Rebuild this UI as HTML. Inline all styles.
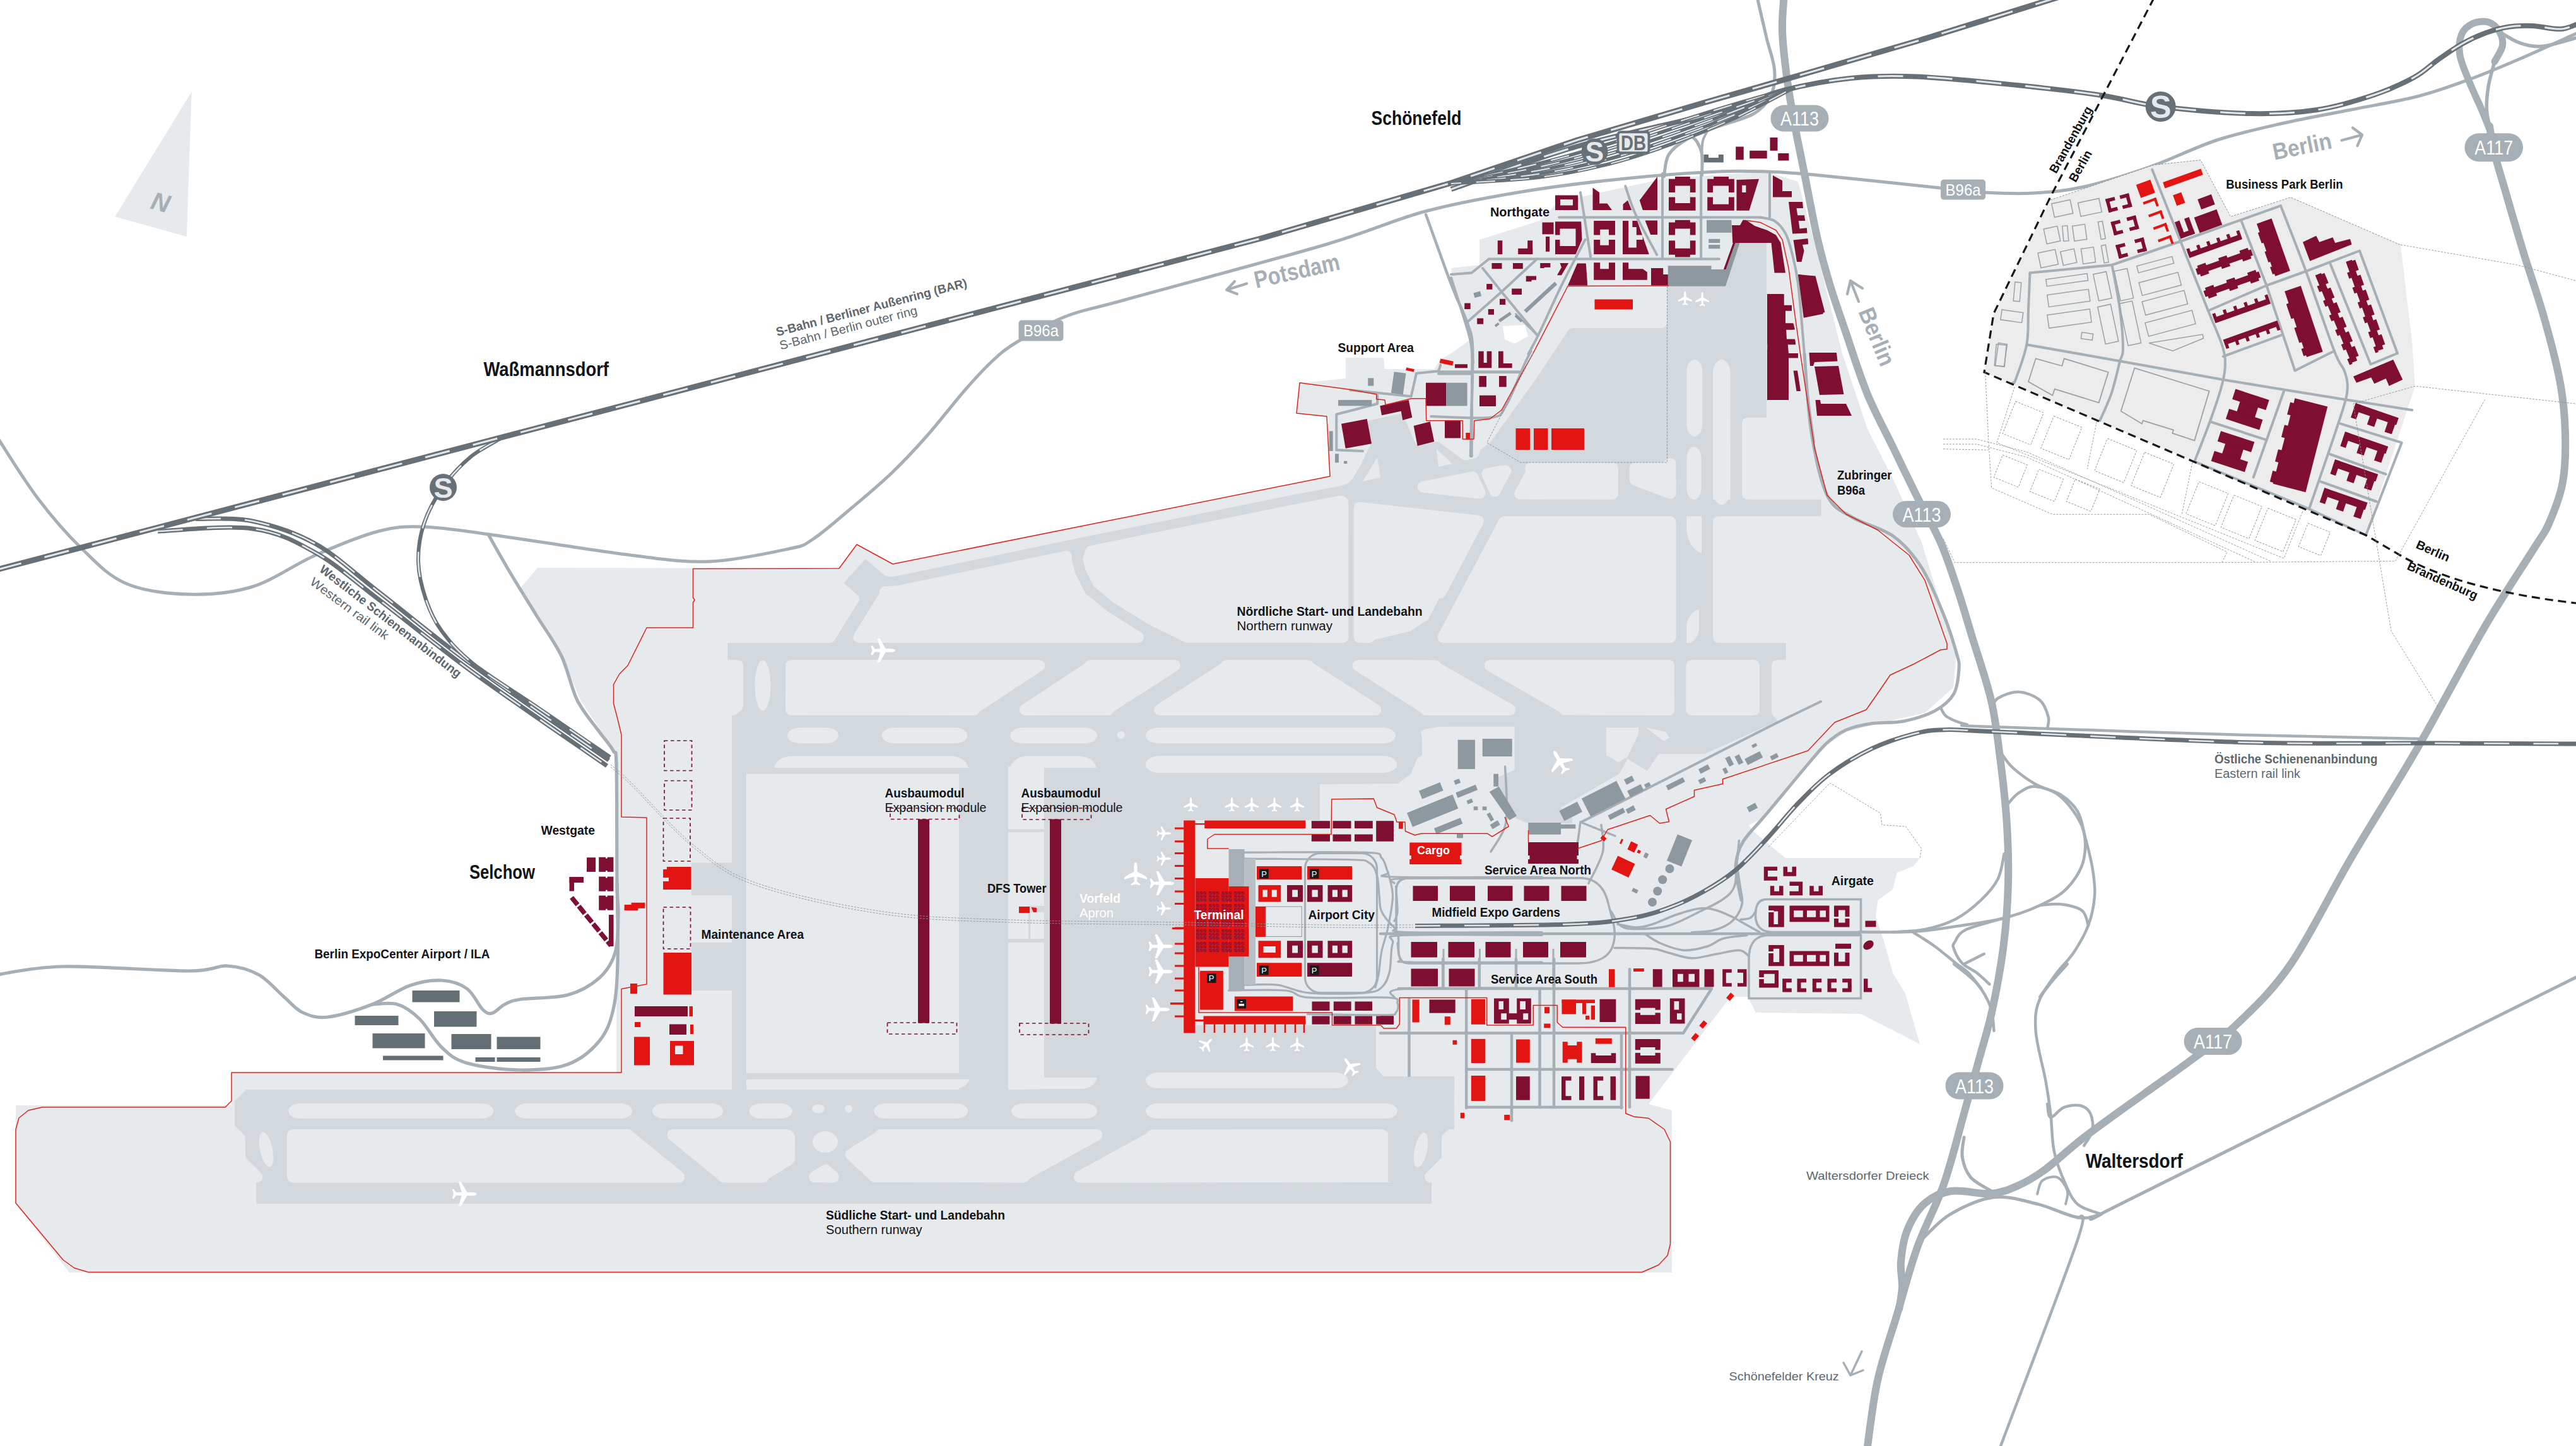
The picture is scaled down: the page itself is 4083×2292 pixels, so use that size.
<!DOCTYPE html>
<html lang="de"><head><meta charset="utf-8"><title>BER Lageplan</title>
<style>html,body{margin:0;padding:0;background:#fff}body{width:4083px;height:2292px;overflow:hidden;font-family:"Liberation Sans",sans-serif}svg{display:block}</style></head>
<body>
<svg width="4083" height="2292" viewBox="0 0 4083 2292" font-family="'Liberation Sans', sans-serif">
<rect width="4083" height="2292" fill="#fff"/>
<g id="s1_field"><polygon points="25,1752 367,1752 367,1700 977,1700 977,1215 972,1190 950,1155 920,1110 895,1050 870,1000 845,970 825,932 852,900 1330,901 1358,863 1415,894 2108,755 2105,660 2055,655 2060,607 2133,600 2133,567 2193,567 2195,585 2273,585 2283,570 2300,560 2335,535 2305,470 2300,425 2345,420 2345,380 2440,350 2470,320 2560,300 2640,283 2800,272 2850,288 2880,400 2920,560 2960,680 3001,760 3046,860 3081,975 3101,1035 3096,1090 3051,1130 2976,1147 2926.7,1160 2896.7,1180 2866.7,1213 2800,1293 2771.7,1308.3 2778,1316.7 2830,1360 3043,1360 3033,1373 3006.7,1383.3 3000,1410 2976.7,1426.7 2973,1453 2986.7,1493.3 3000,1542 3020,1575 3043,1655 2949,1607 2783,1605 2770,1580 2743,1580 2613,1750 2650,1760 2650,2017 110,2017 25,1908" fill="#e7eaed"/>
<polygon points="2382,517 2417,515 2422,533 2400,545 2385,538" fill="#fff"/>
<rect x="1154" y="1019" width="1675" height="27" fill="#d3d8dc"/>
<rect x="406" y="1875" width="1863" height="32.5" fill="#d3d8dc"/></g>
<g id="s2_taxi"><path d="M1153.1 1045.9 1171.3 1046.3 1175.4 1048.6 1177.7 1052.7 1178 1055 1178 1118.3 1176.8 1122.8 1168.6 1131.4 1164.6 1133.7 1160.1 1134.1 1160 1134.6 1160 1367.5 1095.5 1367.5 1095.5 1419 1160 1419 1160 1494 1096 1494 1096 1570 1160 1570 1160 1727 390 1727.1 372.1 1745 372 1784.4 372.5 1785.4 386 1797.3 388.6 1801.6 389.1 1835 413.7 1859.1 416 1863.1 416.1 1867.8 413.8 1871.8 409.7 1874.2 406.1 1874.6 406.1 1907.4 2268.9 1907.4 2268.9 1874.6 2264.9 1874.2 2260.9 1871.9 2258.5 1867.8 2258.5 1863.2 2260.9 1859.1 2285 1835 2285 1803.9 2286.3 1799.2 2294.9 1791.1 2299.2 1790 2304.9 1789.9 2305 1706 2193 1706 2181 1693 2181 1625 1894 1625 1894 1300 2092 1300 2092 1243 2216 1242 2236 1227 2240.6 1216 2253.9 1215.9 2259.1 1199.4 2260.5 1197.6 2264.5 1195.3 2400.7 1195 2400.7 1220 2372 1233 2372 1243 2402 1297 2422 1305 2492 1305 2492 1297 2474 1280 2566 1227 2580 1203.3 2610.7 1221.7 2629.2 1195 2702 1195 2817.9 1143 2809 1132.5 2808 1128.3 2808 1055 2809.2 1050.5 2810.6 1048.6 2814.7 1046.3 2830.9 1045.9 2830.9 1019.1 2724 1019 2721.7 1018.7 2717.6 1016.4 2716.2 1014.5 2715 1010 2715 827.3 2716.2 822.8 2717.6 820.9 2721.7 818.6 2724 818.3 2886.9 818.2 2886.9 791.8 2769.7 791.7 2767.4 791.4 2763.3 789.1 2761 785 2761 668.7 2763.3 664.6 2767.4 662.3 2799.4 662 2800 661.4 2799.9 384.1 2758 384.1 2737 447.8 2734.6 451.6 2732.8 452.9 2728.5 454 2642.6 454.1 2642.5 511 2641.2 515.7 2637.7 519 2632.9 520 2493.6 520 2490.4 520.5 2487.1 522.3 2484.9 524.7 2435 600 2363.8 698.9 2347 712.6 2345.1 716 2344.2 721.1 2343.1 723.1 2339.6 726.1 2323.7 729.4 2319.1 728.9 2280 700.1 2252.2 705.6 2247.3 705.2 2245.2 704 2242.1 700.2 2223 655.1 2168.5 666.9 2168.1 667.6 2172.6 700.4 2171.9 705.4 2156.7 737.4 2143.6 759 2135.1 766.9 2124.6 770.3 2048.5 784.6 1711.5 852.6 1419.8 913.4 1408 914 1403 912.7 1371.7 886.1 1337.4 924 1360.6 944.5 1362.1 949.4 1361.7 951.9 1321.7 1016.5 1317.7 1018.7 1315.5 1019 1153.1 1019.1ZM1183 1711 1520 1711 1520 1727 1183 1727ZM1183 1227 1520 1227 1520 1701 1183 1701ZM1655 1216 1655 1718 1653.8 1722.5 1650.5 1725.8 1648.3 1726.7 1598 1727 1598 1216ZM2578.6 1199.7 2546 1197 2546 1195 2581.7 1195ZM2676.8 1132.8 2673.5 1129.5 2672.3 1125 2672.3 1055 2673.5 1050.5 2676.8 1047.2 2681.3 1046 2780 1046 2784.5 1047.2 2787.8 1050.5 2789 1055 2789 1125 2787.8 1129.5 2784.5 1132.8 2780 1134 2681.3 1134ZM2741.5 787.2 2740.1 789.1 2736 791.4 2724 791.7 2721.7 791.4 2717.6 789.1 2715.3 785 2715 671 2716.2 666.5 2717.6 664.6 2721.7 662.3 2736 662.3 2740.1 664.6 2742.4 668.7 2742.7 782.7ZM2283 1017.8 2281.1 1016.5 2278.8 1012.5 2278.6 1008 2279.4 1005.8 2375.3 824.7 2377.8 821 2379.6 819.5 2384.1 818.3 2647.7 818.3 2652.2 819.5 2655.5 822.8 2656.7 827.3 2656.7 1010 2655.5 1014.5 2652.2 1017.8 2647.7 1019 2287.4 1019ZM2635 732.7 2638.5 731.3 2642.3 727.7 2646.9 725.9 2651.7 726.9 2653.8 728.3 2656.4 732.5 2656.7 781.7 2655.4 786.5 2651.7 789.8 2649.4 790.6 2644.5 790.2 2588.5 768.9 2585 766.5 2583.7 764.7 2582.7 760.5 2582.7 742 2583.9 737.5 2587.2 734.2 2591.7 733ZM2357.1 1062.8 2353.8 1059.5 2352.9 1057.4 2352.9 1052.7 2353.8 1050.5 2357.1 1047.2 2361.6 1046 2647.3 1046.3 2651.4 1048.6 2652.8 1050.5 2654 1055 2653.7 1127.3 2651.4 1131.4 2647.3 1133.7 2645 1134 2477.4 1133.6 2473.1 1130.7 2471.2 1128ZM2417.1 741.3 2418.6 737.1 2420 735.4 2421.8 734.1 2426.1 733 2558.3 733.3 2562.4 735.6 2563.8 737.5 2565 742 2564.7 785 2562.4 789.1 2558.3 791.4 2556 791.7 2406.7 791.4 2402.8 789.1 2401.3 787.3 2400 782.9 2400.3 780.6 2418.1 747ZM2251.5 1128.7 2147.7 1062.6 2144.6 1059.2 2143.7 1057.1 2143.9 1052.5 2144.8 1050.4 2148.1 1047.2 2152.5 1046 2277.6 1046.4 2281.9 1049.3 2283.8 1052 2397.9 1117.2 2401.2 1120.5 2402.4 1125 2401.2 1129.5 2399.8 1131.4 2397.9 1132.8 2393.4 1134 2260 1134 2255.8 1132.9ZM2373.8 786.3 2371.4 787.2 2366.5 787 2362.4 784.2 2349 755.1 2348.2 750.6 2348.7 748.4 2351.3 744.6 2355.4 742.6 2380 737.5 2387.9 737.6 2390.3 738.3 2394 741.4 2395.6 746 2395.3 748.4 2377.2 782.7ZM2250.4 779 2247.5 775.5 2246.8 771 2248.3 766.6 2251.8 763.6 2334.7 747.1 2339.2 748.7 2342.3 752.4 2353.8 778 2354.5 782.6 2353.9 784.9 2351.2 788.7 2349.2 789.9 2344.6 790.6 2254.7 780.7ZM2175.1 1017.5 2170.2 1019 2152.4 1018.7 2148.3 1016.4 2146.9 1014.5 2145.7 1010 2145.7 804.8 2147.1 800 2148.7 798.1 2150.8 796.7 2155.7 795.8 2344 816.8 2348.6 818.6 2350.3 820.4 2352 825.1 2351 829.9 2290.7 943.9 2287.2 947.5 2284.8 948.4 2280.9 948.5 2263.6 982.2 2236.1 999.8 2233.4 1000.9 2178.7 1014.1ZM1937.8 1048.3 1941.7 1046.3 1943.9 1046 2075.2 1046.3 2079 1048.3 2081.5 1051.3 2185.3 1117.4 2188.4 1120.8 2189.5 1125.2 2189.1 1127.5 2188.2 1129.6 2184.9 1132.8 2180.5 1134 1838 1134 1833.6 1132.8 1830.3 1129.6 1829.4 1127.5 1829.3 1123 1831.4 1118.9 1833.2 1117.4 1935.1 1052.1ZM1765.5 955.4 1733.9 929.4 1720.5 902.9 1716.2 885.4 1720.7 870.7 1723.3 866.8 1725.3 865.5 2051.4 799.4 2124.7 785.5 2127.4 785.4 2132.3 787.4 2135.9 790.8 2137 793 2137.3 1010 2136.1 1014.5 2132.8 1017.8 2128.3 1019 1879.5 1018.6 1821.7 990.3ZM1721.9 1048.4 1723.7 1047.1 1728 1046 1862 1046 1866.4 1047.2 1868.3 1048.5 1870.6 1052.5 1871 1054.7 1869.9 1059.2 1866.8 1062.6 1764.9 1127.9 1762.2 1131.7 1758.3 1133.7 1624.6 1134 1620.2 1132.8 1617 1129.7 1616 1127.6 1615.9 1123 1616.7 1120.9 1619.7 1117.5 1719.2 1052ZM1393.7 936.6 1395.8 932.3 1399.8 929.6 1421.7 928.3 1690.5 872.7 1695.2 874.4 1698.2 878.3 1698.8 880.8 1698.6 886.5 1704 907.7 1720.5 940.5 1755.4 969.1 1808.9 1002.4 1810.7 1003.8 1812.9 1007.9 1812.8 1012.5 1810.5 1016.4 1808.6 1017.8 1804.1 1019 1361.4 1019 1356.8 1017.8 1353.5 1014.4 1352.6 1012.2 1352.4 1009.8 1353.7 1005.3 1393.6 941ZM1550.1 1131.6 1548.3 1132.9 1544 1134 1251.7 1133.7 1249.5 1132.8 1246.2 1129.5 1245 1125 1245.3 1052.7 1246.2 1050.5 1249.5 1047.2 1254 1046 1647.4 1046 1651.8 1047.2 1655 1050.3 1656 1052.4 1656.1 1057 1655.3 1059.1 1652.3 1062.5 1552.8 1128ZM2203 1874.1 1710.9 1874.5 1708.5 1874.2 1704.5 1871.8 1702.1 1867.7 1701.9 1865.4 1703.1 1860.9 1706.5 1857.6 1818 1796.1 1820 1793.2 1824.3 1790.4 2189.8 1790 2193.8 1790.9 2200 1795.6 2200 1873 2205.4 1873ZM1742.8 1791.2 1746.1 1794.6 1747.2 1799.1 1746 1803.6 1742.6 1806.9 1632 1867.9 1629.8 1871.3 1627.8 1873 1622.9 1874.5 1384.3 1874.1 1380.1 1871.4 1342.5 1836.6 1340 1832.6 1339.6 1830.3 1340.6 1825.7 1343.8 1822.3 1386.6 1795.8 1389.3 1792.3 1391.1 1791 1395.3 1790 1738.2 1790ZM1329.8 1865.2 1328.7 1869.8 1327.3 1871.8 1325.4 1873.2 1320.8 1874.5 1288.8 1874.2 1284.8 1871.9 1283.4 1870.1 1282.1 1865.7 1283.2 1861.2 1286.4 1857.8 1304.1 1846.9 1308.5 1845.6 1310.8 1845.8 1314.9 1847.9 1326.9 1858.9 1329.4 1862.9ZM1141.9 1873.2 1138.1 1869.2 1060.4 1806 1058.7 1804.2 1057.1 1799.6 1058.1 1794.9 1059.5 1792.9 1061.4 1791.3 1066.1 1790 1248.5 1790 1253.4 1791.5 1258.7 1797 1260 1801.7 1260.2 1838.6 1259.4 1841.1 1256 1844.9 1218.4 1868.2 1215.5 1872.2 1213.7 1873.5 1209.5 1874.5 1146.5 1874.5ZM457.6 1792.6 461.7 1790.3 464 1790 995.8 1790 1000.4 1791.3 1003.9 1794.8 1082.2 1858.5 1085 1862.5 1085.3 1867.3 1084.5 1869.6 1081.2 1873.2 1076.5 1874.5 464 1874.5 461.7 1874.2 457.6 1871.9 455.3 1867.8 455 1865.5 455 1799 455.3 1796.7Z" fill="#d3d8dc"/>
<rect x="1248" y="1153.3" width="81" height="25" rx="20" ry="12.5" fill="#e7eaed"/>
<rect x="1397.7" y="1153.3" width="135.6" height="25" rx="20" ry="12.5" fill="#e7eaed"/>
<rect x="1601" y="1153.3" width="138" height="25" rx="20" ry="12.5" fill="#e7eaed"/>
<rect x="1816" y="1153.3" width="396" height="25" rx="20" ry="12.5" fill="#e7eaed"/>
<ellipse cx="1776.7" cy="1165" rx="6" ry="6" fill="#e7eaed"/>
<path d="M1226.7 1217 Q1232.7 1198.5 1256.7 1198.5 L1505 1198.5 Q1529 1198.5 1535 1217Z" fill="#e7eaed"/>
<path d="M1601 1217 Q1607 1198.5 1631 1198.5 L1708 1198.5 Q1732 1198.5 1738 1217Z" fill="#e7eaed"/>
<path d="M1816 1217 Q1822 1198.5 1846 1198.5 L2184 1198.5 Q2208 1198.5 2214 1217Z" fill="#e7eaed"/>
<rect x="1816" y="1198.3" width="398" height="26.7" rx="21.4" ry="13.4" fill="#e7eaed"/>
<rect x="1183" y="1226.7" width="336.5" height="474.3" fill="#e7eaed"/>
<rect x="1598" y="1215" width="57" height="493" fill="#e7eaed"/>
<rect x="1598" y="1314.5" width="57" height="4.5" fill="#d3d8dc"/>
<rect x="1598" y="1488" width="64" height="6" fill="#d3d8dc"/>
<rect x="1630" y="1436" width="3" height="54" fill="#d3d8dc"/>
<rect x="1632" y="1436" width="30" height="10" fill="#d3d8dc"/>
<ellipse cx="1209" cy="1086.5" rx="12.5" ry="40" fill="#e7eaed"/>
<rect x="2673.3" y="570" width="25" height="121.7" rx="12.5" ry="20" fill="#e7eaed"/>
<rect x="2673.3" y="708.3" width="23.4" height="83.4" rx="11.7" ry="18.7" fill="#e7eaed"/>
<rect x="2715" y="570" width="27.7" height="230" rx="13.8" ry="22.2" fill="#e7eaed"/>
<rect x="2715" y="700" width="27.7" height="91.7" fill="#e7eaed"/>
<path d="M2673 818.3H2697V877Q2676 868 2673 840Z" fill="#e7eaed"/>
<path d="M2673 1019V990Q2678 970 2693 965V1000Q2690 1012 2680 1019Z" fill="#e7eaed"/>
<polygon points="2183,725 2188,756.7 2160,763" fill="#e7eaed"/>
<polygon points="2276.7,711.7 2301.7,735 2280,740" fill="#e7eaed"/>
<polygon points="2545.7,1153.3 2597.3,1153.3 2597.3,1163.3 2579,1200 2565.7,1208.3 2545.7,1196.7" fill="#e7eaed"/>
<polygon points="2609,1153.3 2640,1160 2646,1169 2637.3,1175" fill="#e7eaed"/>
<path d="M2252 1158Q2270 1152 2292 1151.7H2400.7V1220L2372 1233V1243H2216L2236 1227L2246 1203L2254 1197V1172Z" fill="#e7eaed"/>
<rect x="457" y="1749" width="325" height="24" rx="19.2" ry="12" fill="#e7eaed"/>
<rect x="816" y="1749" width="186" height="24" rx="19.2" ry="12" fill="#e7eaed"/>
<rect x="1034" y="1749" width="112" height="24" rx="19.2" ry="12" fill="#e7eaed"/>
<rect x="1187.7" y="1749" width="68.3" height="24" rx="19.2" ry="12" fill="#e7eaed"/>
<rect x="1385" y="1749" width="149" height="24" rx="19.2" ry="12" fill="#e7eaed"/>
<rect x="1603" y="1749" width="136" height="24" rx="19.2" ry="12" fill="#e7eaed"/>
<rect x="1816" y="1749" width="399" height="24" rx="19.2" ry="12" fill="#e7eaed"/>
<ellipse cx="1297" cy="1757.5" rx="10" ry="7" fill="#e7eaed"/>
<ellipse cx="1345" cy="1757.7" rx="6" ry="6" fill="#e7eaed"/>
<path d="M1188 1710.7 H1536.7 Q1531.7 1726 1508.7 1726 H1216 Q1193 1726 1188 1710.7Z" fill="#e7eaed"/>
<path d="M1603 1708 H1739 Q1734 1726 1711 1726 H1631 Q1608 1726 1603 1708Z" fill="#e7eaed"/>
<rect x="1816" y="1700" width="320.7" height="25" rx="20" ry="12.5" fill="#e7eaed"/>
<ellipse cx="422" cy="1822" rx="10" ry="28" fill="#e7eaed" transform="rotate(-12 422 1822)"/>
<ellipse cx="2252" cy="1823" rx="10" ry="28" fill="#e7eaed" transform="rotate(12 2252 1823)"/>
<ellipse cx="1308" cy="1810" rx="20" ry="17" fill="#e7eaed"/></g>
<g id="s3_roads"><path d="M2827.5 -5 C2827.1 4.2 2824.2 28.3 2825 50 C2825.8 71.7 2829.2 100 2832.5 125 C2835.8 150 2840.4 175 2845 200 C2849.6 225 2854.2 245.8 2860 275 C2865.8 304.2 2873.3 345.8 2880 375 C2886.7 404.2 2892.5 425 2900 450 C2907.5 475 2915 495.8 2925 525 C2935 554.2 2947.3 594.2 2960 625 C2972.7 655.8 2987.7 682.5 3001 710 C3014.3 737.5 3027.5 765 3040 790 C3052.5 815 3065.5 835.8 3076 860 C3086.5 884.2 3094.7 910 3103 935 C3111.3 960 3117.2 980.8 3126 1010 C3134.8 1039.2 3148.7 1078.3 3156 1110 C3163.3 1141.7 3165.9 1168.3 3170 1200 C3174.1 1231.7 3178.3 1266.7 3180.5 1300 C3182.7 1333.3 3183.8 1366.7 3183 1400 C3182.2 1433.3 3179.7 1466.7 3175.5 1500 C3171.3 1533.3 3164.2 1570.8 3158 1600 C3151.8 1629.2 3145.5 1647.5 3138 1675 C3130.5 1702.5 3122.5 1731.3 3113 1765 C3103.5 1798.7 3093.3 1841.7 3081 1877 C3068.7 1912.3 3051.3 1942.7 3039 1977 C3026.7 2011.3 3017.5 2047.8 3007 2083 C2996.5 2118.2 2984 2151.8 2976 2188 C2968 2224.2 2961.8 2281.3 2959 2300" fill="none" stroke="#a5afb5" stroke-width="12" stroke-linejoin="round" stroke-linecap="round"/>
<path d="M3946 200 C3947.2 206.7 3949.2 224 3953 240 C3956.8 256 3961.2 269.2 3969 296 C3976.8 322.8 3989.5 366.7 4000 401 C4010.5 435.3 4022.3 467.7 4032 502 C4041.7 536.3 4052.3 576.2 4058 607 C4063.7 637.8 4065.3 660.8 4066 687 C4066.7 713.2 4066.3 740.2 4062 764 C4057.7 787.8 4047.7 812.3 4040 830 C4032.3 847.7 4033.2 842.3 4016 870 C3998.8 897.7 3967.8 943.2 3937 996 C3906.2 1048.8 3866.2 1126.2 3831 1187 C3795.8 1247.8 3759.3 1304.2 3726 1361 C3692.7 1417.8 3661 1484.3 3631 1528 C3601 1571.7 3572.5 1597.5 3546 1623 C3519.5 1648.5 3496.7 1662.5 3472 1681 C3447.3 1699.5 3426.2 1713.7 3398 1734 C3369.8 1754.3 3329.3 1782.8 3303 1803 C3276.7 1823.2 3257.7 1842.2 3240 1855 C3222.3 1867.8 3211.2 1873.8 3197 1880 C3182.8 1886.2 3172.5 1890.7 3155 1892 C3137.5 1893.3 3109.5 1885.3 3092 1888 C3074.5 1890.7 3061.5 1897.7 3050 1908 C3038.5 1918.3 3029.2 1934.7 3023 1950 C3016.8 1965.3 3014.3 1985 3013 2000 C3011.7 2015 3015.5 2027.5 3015 2040 C3014.5 2052.5 3010.8 2069.2 3010 2075" fill="none" stroke="#a5afb5" stroke-width="12" stroke-linejoin="round" stroke-linecap="round"/>
<path d="M3946 205 C3944 200 3939.3 187.5 3934 175 C3928.7 162.5 3919.8 144.6 3914 130 C3908.2 115.4 3901.1 100 3899 87.5 C3896.9 75 3898.2 63.3 3901.5 55 C3904.8 46.7 3911.9 40.8 3919 37.5 C3926.1 34.2 3936.9 32.9 3944 35 C3951.1 37.1 3957.8 43.8 3961.5 50 C3965.2 56.2 3967.8 64.6 3966.5 72.5 C3965.2 80.4 3956.1 93.3 3954 97.5" fill="none" stroke="#a5afb5" stroke-width="11" stroke-linejoin="round" stroke-linecap="round"/>
<path d="M3954 97.5 C3952.3 104.2 3946.1 124.6 3944 137.5 C3941.9 150.4 3940.8 162.9 3941.5 175 C3942.2 187.1 3946.9 204.2 3948 210" fill="none" stroke="#a5afb5" stroke-width="5.5" stroke-linejoin="round" stroke-linecap="round"/>
<path d="M3964 52 C3968.2 54.3 3980.7 62.5 3989 66 C3997.3 69.5 4005.7 72 4014 73 C4022.3 74 4026.3 74.5 4039 72 C4051.7 69.5 4081.5 60.3 4090 58" fill="none" stroke="#a5afb5" stroke-width="5.5" stroke-linejoin="round" stroke-linecap="round"/>
<path d="M-5 692 C5.8 708.3 37.5 760.3 60 790 C82.5 819.7 106.7 847.5 130 870 C153.3 892.5 171.7 913 200 925 C228.3 937 266.7 941.2 300 942 C333.3 942.8 366.7 940.3 400 930 C433.3 919.7 466.7 894.7 500 880 C533.3 865.3 571.7 849.5 600 842 C628.3 834.5 640.8 834.2 670 835 C699.2 835.8 720 839.5 775 847 C830 854.5 941.7 872.8 1000 880 C1058.3 887.2 1083.3 891.7 1125 890 C1166.7 888.3 1222.8 875.8 1250 870 C1277.2 864.2 1271.3 865.8 1288 855 C1304.7 844.2 1329.2 822.5 1350 805 C1370.8 787.5 1393 769.2 1413 750 C1433 730.8 1450.8 711.7 1470 690 C1489.2 668.3 1511.3 639.2 1528 620 C1544.7 600.8 1556.5 587.7 1570 575 C1583.5 562.3 1589.3 556.2 1609 544 C1628.7 531.8 1658.8 513.5 1688 502 C1717.2 490.5 1715.3 494 1784 475 C1852.7 456 2020.8 411.3 2100 388 C2179.2 364.7 2206 349.2 2259 335 C2312 320.8 2365.2 311.7 2418 303 C2470.8 294.3 2525.3 288.2 2576 283 C2626.7 277.8 2684.7 273.8 2722 272 C2759.3 270.2 2774.5 271.2 2800 272 C2825.5 272.8 2829 272.7 2875 277 C2921 281.3 3031 293.3 3076 298 C3121 302.7 3120.3 303.7 3145 305 C3169.7 306.3 3197.7 307.5 3224 306 C3250.3 304.5 3272.2 303 3303 296 C3333.8 289 3373.8 276.3 3409 264 C3444.2 251.7 3478.8 233.5 3514 222 C3549.2 210.5 3584.7 203 3620 195 C3655.3 187 3690.8 181 3726 174 C3761.2 167 3800.2 160.8 3831 153 C3861.8 145.2 3884.5 136.7 3911 127 C3937.5 117.3 3960.2 107.8 3990 95 C4019.8 82.2 4073.3 57.5 4090 50" fill="none" stroke="#a5afb5" stroke-width="5" stroke-linejoin="round" stroke-linecap="round"/>
<path d="M2860 561 C2861.8 581.7 2865 647.7 2871 685 C2877 722.3 2885.2 762.5 2896 785 C2906.8 807.5 2918.5 809.2 2936 820 C2953.5 830.8 2982.7 836.7 3001 850 C3019.3 863.3 3032.7 879.2 3046 900 C3059.3 920.8 3071.8 952.5 3081 975 C3090.2 997.5 3097 1020.8 3101 1035 C3105 1049.2 3105.7 1049.2 3105 1060 C3104.3 1070.8 3103.1 1088.9 3096.7 1100 C3090.3 1111.1 3080 1119.5 3066.7 1126.7 C3053.4 1133.9 3033.4 1140 3016.7 1143.3 C3000 1146.6 2981.7 1144.5 2966.7 1146.7 C2951.7 1148.9 2938.4 1151.7 2926.7 1156.7 C2915 1161.7 2906.7 1167.8 2896.7 1176.7 C2886.7 1185.6 2882.8 1191.1 2866.7 1210 C2850.6 1228.9 2817.2 1269.5 2800 1290 C2782.8 1310.5 2771.4 1320.5 2763.3 1333.3 C2755.2 1346.1 2753.4 1356.7 2751.7 1366.7 C2750 1376.7 2751.9 1383.3 2753.3 1393.3 C2754.7 1403.3 2758.9 1421.1 2760 1426.7" fill="none" stroke="#a5afb5" stroke-width="5" stroke-linejoin="round" stroke-linecap="round"/>
<path d="M775 849 C780.8 859.2 797.5 889 810 910 C822.5 931 836.7 953.3 850 975 C863.3 996.7 879.2 1017.5 890 1040 C900.8 1062.5 905 1090 915 1110 C925 1130 940.5 1146.7 950 1160 C959.5 1173.3 967.5 1180.8 972 1190 C976.5 1199.2 976 1180 977 1215 C978 1250 977.5 1360.8 978 1400 C978.5 1439.2 980.5 1431.7 980 1450 C979.5 1468.3 980 1493.3 975 1510 C970 1526.7 962.5 1538.8 950 1550 C937.5 1561.2 920.8 1571.3 900 1577 C879.2 1582.7 841.7 1581.5 825 1584 C808.3 1586.5 807.5 1588.3 800 1592 C792.5 1595.7 785.8 1604.7 780 1606 C774.2 1607.3 771.7 1606.5 765 1600 C758.3 1593.5 750.8 1574.7 740 1567 C729.2 1559.3 715 1554.8 700 1554 C685 1553.2 668.3 1555.7 650 1562 C631.7 1568.3 611.7 1583.7 590 1592 C568.3 1600.3 538.3 1609.8 520 1612 C501.7 1614.2 491.7 1610.3 480 1605 C468.3 1599.7 461.7 1590 450 1580 C438.3 1570 425 1553.2 410 1545 C395 1536.8 378.3 1532 360 1531 C341.7 1530 343.3 1538.8 300 1539 C256.7 1539.2 150.8 1531 100 1532 C49.2 1533 12.5 1542.8 -5 1545" fill="none" stroke="#a5afb5" stroke-width="5.2" stroke-linejoin="round" stroke-linecap="round"/>
<path d="M590 1592 C596.7 1592 617.5 1588.2 630 1592 C642.5 1595.8 653.3 1603.7 665 1615 C676.7 1626.3 687.5 1648.3 700 1660 C712.5 1671.7 719.2 1679 740 1685 C760.8 1691 798.3 1695.7 825 1696 C851.7 1696.3 879.2 1694.7 900 1687 C920.8 1679.3 938 1664.5 950 1650 C962 1635.5 967.2 1620.8 972 1600 C976.8 1579.2 978 1558.3 979 1525 C980 1491.7 978.2 1420.8 978 1400" fill="none" stroke="#a5afb5" stroke-width="5.2" stroke-linejoin="round" stroke-linecap="round"/>
<path d="M3156.7 1123.3 C3158.3 1120.6 3159.4 1111.1 3166.7 1106.7 C3173.9 1102.2 3188.9 1096.1 3200 1096.7 C3211.1 1097.2 3225.6 1103.3 3233.3 1110 C3241.1 1116.7 3244.7 1129.2 3246.7 1136.7 C3248.6 1144.2 3245.3 1151.9 3245 1155" fill="none" stroke="#a5afb5" stroke-width="4.5" stroke-linejoin="round" stroke-linecap="round"/>
<path d="M3076.7 1123.3 C3078.3 1125.6 3080 1132.5 3086.7 1136.7 C3093.3 1140.8 3106.1 1145.8 3116.7 1148.3 C3127.2 1150.8 3076.3 1148.9 3150 1151.7 C3223.7 1154.4 3444.3 1161.8 3558.7 1165 C3673 1168.2 3789.8 1170 3836 1171" fill="none" stroke="#a5afb5" stroke-width="4.5" stroke-linejoin="round" stroke-linecap="round"/>
<path d="M3171.7 1193.3 C3174.7 1197.2 3180.8 1208.3 3190 1216.7 C3199.2 1225 3213.9 1236.1 3226.7 1243.3 C3239.4 1250.6 3255.6 1252.8 3266.7 1260 C3277.8 1267.2 3286.9 1275.6 3293.3 1286.7 C3299.7 1297.8 3301.1 1311.7 3305 1326.7 C3308.9 1341.7 3314.2 1361.1 3316.7 1376.7 C3319.2 1392.2 3321.1 1405 3320 1420 C3318.9 1435 3315.6 1451.7 3310 1466.7 C3304.4 1481.7 3295 1497.4 3286.7 1510 C3278.3 1522.6 3268.9 1530.3 3260 1542 C3251.1 1553.7 3237.8 1573.7 3233.3 1580" fill="none" stroke="#a5afb5" stroke-width="4.5" stroke-linejoin="round" stroke-linecap="round"/>
<path d="M3183.3 1273.3 C3186.1 1270.6 3192.8 1261.1 3200 1256.7 C3207.2 1252.2 3215.6 1245.6 3226.7 1246.7 C3237.8 1247.8 3254.4 1252.8 3266.7 1263.3 C3278.9 1273.9 3293.9 1293.9 3300 1310 C3306.1 1326.1 3306.1 1345 3303.3 1360 C3300.6 1375 3292.2 1388.9 3283.3 1400 C3274.4 1411.1 3266.7 1417.8 3250 1426.7 C3233.3 1435.6 3208.3 1446.4 3183.3 1453.3 C3158.3 1460.3 3125 1464.4 3100 1468.3 C3075 1472.2 3058.9 1475.2 3033.3 1476.7 C3007.8 1478.2 2961.1 1477.2 2946.7 1477.3" fill="none" stroke="#a5afb5" stroke-width="4.5" stroke-linejoin="round" stroke-linecap="round"/>
<path d="M3233.3 1435 C3238.9 1434.7 3255.6 1431.9 3266.7 1433.3 C3277.8 1434.7 3292.8 1437.8 3300 1443.3 C3307.2 1448.9 3308.3 1462.8 3310 1466.7" fill="none" stroke="#a5afb5" stroke-width="4.5" stroke-linejoin="round" stroke-linecap="round"/>
<path d="M3183.3 1453.3 C3172.2 1456.7 3130.8 1466.7 3116.7 1473.3 C3102.5 1480 3101.7 1488.3 3098.3 1493.3 C3095 1498.3 3094.7 1497.8 3096.7 1503.3 C3098.6 1508.9 3103.9 1520.2 3110 1526.7 C3116.1 1533.1 3126.1 1536.4 3133.3 1542 C3140.6 1547.6 3150 1557 3153.3 1560" fill="none" stroke="#a5afb5" stroke-width="4.5" stroke-linejoin="round" stroke-linecap="round"/>
<path d="M3176.7 1353.3 C3175 1360 3172.8 1381.1 3166.7 1393.3 C3160.6 1405.6 3151.1 1416.1 3140 1426.7 C3128.9 1437.2 3115 1448.9 3100 1456.7 C3085 1464.4 3066.7 1469.9 3050 1473.3 C3033.3 1476.8 3008.3 1476.7 3000 1477.3" fill="none" stroke="#a5afb5" stroke-width="4.5" stroke-linejoin="round" stroke-linecap="round"/>
<path d="M3033.3 1478.3 C3038.9 1481.9 3055.6 1491.9 3066.7 1500 C3077.8 1508.1 3091.1 1519.7 3100 1526.7 C3108.9 1533.7 3113.3 1535.3 3120 1542 C3126.7 1548.7 3136.7 1562.6 3140 1566.7" fill="none" stroke="#a5afb5" stroke-width="4.5" stroke-linejoin="round" stroke-linecap="round"/>
<path d="M3113 1802.7 C3112.5 1808 3108.6 1823.9 3110.3 1834.4 C3112.1 1845 3116.1 1857.3 3123.5 1866.1 C3131 1874.9 3150 1883.7 3155.2 1887.3" fill="none" stroke="#a5afb5" stroke-width="5" stroke-linejoin="round" stroke-linecap="round"/>
<path d="M3049.6 1961.2 C3056.6 1955.1 3073.3 1934.8 3091.8 1924.3 C3110.3 1913.7 3137.6 1900.5 3160.5 1897.8 C3183.4 1895.2 3207.2 1903.1 3229.2 1908.4 C3251.2 1913.7 3275.9 1926.9 3292.6 1929.5 C3309.3 1932.2 3314.6 1929.5 3329.6 1924.3 C3344.6 1919 3256.9 1960.4 3382.4 1897.8 C3508 1835.3 3966.2 1607.3 4083 1549.1" fill="none" stroke="#a5afb5" stroke-width="5" stroke-linejoin="round" stroke-linecap="round"/>
<path d="M3276.8 1528 C3269.7 1536.8 3242.9 1563.2 3234.5 1580.8 C3226.1 1598.4 3225.2 1611.7 3226.6 1633.7 C3227.9 1655.7 3238.5 1690.9 3242.4 1712.9 C3246.4 1734.9 3248.1 1747.3 3250.3 1765.8 C3252.5 1784.2 3252.1 1806.3 3255.6 1823.9 C3259.1 1841.5 3265.3 1857.3 3271.5 1871.4 C3277.6 1885.5 3282.9 1899.6 3292.6 1908.4 C3302.3 1917.2 3323.4 1921.6 3329.6 1924.3" fill="none" stroke="#a5afb5" stroke-width="4.5" stroke-linejoin="round" stroke-linecap="round"/>
<path d="M3292.6 1929.5 C3292.6 1935.7 3312.9 1906.1 3292.6 1966.5 C3272.4 2026.9 3191.3 2237.7 3171.1 2292" fill="none" stroke="#a5afb5" stroke-width="4.5" stroke-linejoin="round" stroke-linecap="round"/>
<path d="M3245.1 1749.9 C3245.9 1753.4 3245.9 1770.2 3250.3 1771 C3254.7 1771.9 3263.5 1758.3 3271.5 1755.2 C3279.4 1752.1 3290.8 1750.8 3297.9 1752.5 C3304.9 1754.3 3310.7 1759.1 3313.7 1765.8 C3316.8 1772.4 3318.1 1783.8 3316.4 1792.2 C3314.6 1800.5 3305.4 1812 3303.2 1815.9" fill="none" stroke="#a5afb5" stroke-width="4.5" stroke-linejoin="round" stroke-linecap="round"/>
<path d="M3229.2 1892.6 C3230.5 1889 3231.8 1875.8 3237.1 1871.4 C3242.4 1867 3254.3 1863.5 3260.9 1866.1 C3267.5 1868.8 3274.6 1880.2 3276.8 1887.3 C3279 1894.3 3274.6 1904.9 3274.1 1908.4" fill="none" stroke="#a5afb5" stroke-width="4" stroke-linejoin="round" stroke-linecap="round"/>
<path d="M3097.1 1528 C3103.3 1533.3 3124.4 1548.3 3134.1 1559.7 C3143.8 1571.1 3150.8 1584.4 3155.2 1596.7 C3159.6 1609 3159.6 1627.5 3160.5 1633.7" fill="none" stroke="#a5afb5" stroke-width="4.5" stroke-linejoin="round" stroke-linecap="round"/>
<path d="M3113 1528 L3144.7 1512.1" fill="none" stroke="#a5afb5" stroke-width="4.5" stroke-linejoin="round" stroke-linecap="round"/>
<path d="M2785 -5 C2787.5 5.8 2795.4 40.8 2800 60 C2804.6 79.2 2811.2 95 2812.5 110 C2813.8 125 2812.9 138.3 2807.5 150 C2802.1 161.7 2793.8 171.7 2780 180 C2766.2 188.3 2742.5 193.3 2725 200 C2707.5 206.7 2688.3 212.5 2675 220 C2661.7 227.5 2651.2 235 2645 245 C2638.8 255 2638.8 274.2 2637.5 280" fill="none" stroke="#a5afb5" stroke-width="5" stroke-linejoin="round" stroke-linecap="round"/>
<path d="M2697.5 277.5 C2697.5 272.1 2698.8 253.8 2697.5 245 C2696.2 236.2 2692.9 230 2690 225 C2687.1 220 2681.7 216.7 2680 215" fill="none" stroke="#a5afb5" stroke-width="5" stroke-linejoin="round" stroke-linecap="round"/>
<path d="M2807.5 150 C2797.9 152.5 2764.6 158.3 2750 165 C2735.4 171.7 2728.3 180.8 2720 190 C2711.7 199.2 2703.8 210 2700 220 C2696.2 230 2697.9 245 2697.5 250" fill="none" stroke="#a5afb5" stroke-width="4" stroke-linejoin="round" stroke-linecap="round"/>
<path d="M2471.2 344.5 L2790 344.5" fill="none" stroke="#a5afb5" stroke-width="4" stroke-linejoin="round" stroke-linecap="round"/>
<path d="M2790 344.5 C2793.8 345.4 2805.8 345.8 2812.5 350 C2819.2 354.2 2825.4 361.7 2830 370 C2834.6 378.3 2836.7 386.7 2840 400 C2843.3 413.3 2846.7 423.2 2850 450 C2853.3 476.8 2857.5 531.8 2860 561 C2862.5 590.2 2862.5 601.8 2865 625 C2867.5 648.2 2873.3 687.5 2875 700" fill="none" stroke="#a5afb5" stroke-width="4" stroke-linejoin="round" stroke-linecap="round"/>
<path d="M2360 410.5 L2725 410.5" fill="none" stroke="#a5afb5" stroke-width="4" stroke-linejoin="round" stroke-linecap="round"/>
<path d="M2635 275 L2635 410.5" fill="none" stroke="#a5afb5" stroke-width="4" stroke-linejoin="round" stroke-linecap="round"/>
<path d="M2696.2 275 L2696.2 410.5" fill="none" stroke="#a5afb5" stroke-width="4" stroke-linejoin="round" stroke-linecap="round"/>
<path d="M2805 275 L2805 345" fill="none" stroke="#a5afb5" stroke-width="4" stroke-linejoin="round" stroke-linecap="round"/>
<path d="M2505 305 L2521.2 407.5" fill="none" stroke="#a5afb5" stroke-width="4" stroke-linejoin="round" stroke-linecap="round"/>
<path d="M2576.2 295 C2579 302.5 2584.2 321.9 2592.5 340 C2600.8 358.1 2620.6 393.1 2626.2 403.8" fill="none" stroke="#a5afb5" stroke-width="4" stroke-linejoin="round" stroke-linecap="round"/>
<path d="M2512.5 380 C2506.2 392.1 2487.1 427.9 2475 452.5 C2462.9 477.1 2448.8 509.4 2440 527.5 C2431.2 545.6 2425.4 555.4 2422.5 561" fill="none" stroke="#a5afb5" stroke-width="4" stroke-linejoin="round" stroke-linecap="round"/>
<path d="M2360 410.5 L2332.5 432.5 L2300 435" fill="none" stroke="#a5afb5" stroke-width="4" stroke-linejoin="round" stroke-linecap="round"/>
<path d="M2436.2 410.5 L2380 462.5 L2326.2 510" fill="none" stroke="#a5afb5" stroke-width="4" stroke-linejoin="round" stroke-linecap="round"/>
<path d="M2350 425 L2380 462.5 L2437.5 532.5" fill="none" stroke="#a5afb5" stroke-width="4" stroke-linejoin="round" stroke-linecap="round"/>
<path d="M2300 440 C2302.5 447.9 2310 471.2 2315 487.5 C2320 503.8 2326.7 522.9 2330 537.5 C2333.3 552.1 2334.2 568.8 2335 575" fill="none" stroke="#a5afb5" stroke-width="4" stroke-linejoin="round" stroke-linecap="round"/>
<path d="M2402.5 497.5 L2435 530" fill="none" stroke="#a5afb5" stroke-width="3" stroke-linejoin="round" stroke-linecap="round"/>
<path d="M2260 340 C2266.7 358.3 2289.2 421.7 2300 450 C2310.8 478.3 2319.3 493.3 2325 510 C2330.7 526.7 2332.8 526.7 2334 550 C2335.2 573.3 2333 621.2 2332.5 650 C2332 678.8 2331.2 710.8 2331 723" fill="none" stroke="#a5afb5" stroke-width="4.5" stroke-linejoin="round" stroke-linecap="round"/>
<path d="M2334 590 L2410 590" fill="none" stroke="#a5afb5" stroke-width="4" stroke-linejoin="round" stroke-linecap="round"/>
<path d="M2280 592.5 L2334 592.5" fill="none" stroke="#a5afb5" stroke-width="4" stroke-linejoin="round" stroke-linecap="round"/>
<path d="M2140 618.3 L2236.7 628.3 L2245 591.7 L2280 588.3 L2283.3 578.3" fill="none" stroke="#a5afb5" stroke-width="4" stroke-linejoin="round" stroke-linecap="round"/>
<path d="M2280 589.3 L2408.3 589.3" fill="none" stroke="#a5afb5" stroke-width="4" stroke-linejoin="round" stroke-linecap="round"/>
<path d="M2333.3 556.7 L2332.7 723.3" fill="none" stroke="#a5afb5" stroke-width="4" stroke-linejoin="round" stroke-linecap="round"/>
<path d="M2183.3 626.7 L2183.3 640 L2118.3 656.7 L2118.3 713.3 L2160 715" fill="none" stroke="#a5afb5" stroke-width="4" stroke-linejoin="round" stroke-linecap="round"/>
<path d="M2268.3 660 C2284.2 660.3 2343.6 664.4 2363.3 661.7 C2383.1 658.9 2377.8 657.5 2386.7 643.3 C2395.6 629.2 2410 591.1 2416.7 576.7 C2423.3 562.2 2425 560 2426.7 556.7" fill="none" stroke="#a5afb5" stroke-width="4" stroke-linejoin="round" stroke-linecap="round"/>
<rect x="2068.5" y="1352.5" width="114" height="221" rx="24" fill="none" stroke="#a5afb5" stroke-width="3.2"/>
<path d="M1972.5 1351.2 C2004.2 1351.2 2126.2 1349.8 2162.5 1351.2 C2198.8 1352.7 2183.8 1354.8 2190 1360 C2196.2 1365.2 2196.7 1377.5 2200 1382.5 C2203.3 1387.5 2169.3 1388.8 2210 1390 C2250.7 1391.2 2405 1390 2444 1390" fill="none" stroke="#a5afb5" stroke-width="3.2" stroke-linejoin="round" stroke-linecap="round"/>
<path d="M1972.5 1361.2 C2000 1361.5 2104.6 1361.5 2137.5 1362.5 C2170.4 1363.5 2162.5 1363.3 2170 1367.5 C2177.5 1371.7 2179.8 1378.8 2182.5 1387.5 C2185.2 1396.2 2185 1410.4 2186.2 1420 C2187.5 1429.6 2186 1436.7 2190 1445 C2194 1453.3 2203.3 1464.6 2210 1470 C2216.7 1475.4 2191 1476.2 2230 1477.5 C2269 1478.8 2408.3 1477.5 2444 1477.5" fill="none" stroke="#a5afb5" stroke-width="3.2" stroke-linejoin="round" stroke-linecap="round"/>
<path d="M1972.5 1561.2 C1981.2 1561.2 2007.9 1559.2 2025 1561.2 C2042.1 1563.3 2052.1 1571.7 2075 1573.8 C2097.9 1575.8 2143.3 1575.2 2162.5 1573.8 C2181.7 1572.3 2183.3 1570.6 2190 1565 C2196.7 1559.4 2199.6 1551.7 2202.5 1540 C2205.4 1528.3 2203.8 1504.6 2207.5 1495 C2211.2 1485.4 2185.6 1484.6 2225 1482.5 C2264.4 1480.4 2407.5 1482.5 2444 1482.5" fill="none" stroke="#a5afb5" stroke-width="3.2" stroke-linejoin="round" stroke-linecap="round"/>
<path d="M1947.5 1570 C1962.5 1570 2016.2 1568.1 2037.5 1570 C2058.8 1571.9 2047.9 1579.4 2075 1581.2 C2102.1 1583.1 2176.7 1579.8 2200 1581.2 C2223.3 1582.7 2212.9 1586 2215 1590 C2217.1 1594 2215.8 1601.9 2212.5 1605 C2209.2 1608.1 2218.3 1608.3 2195 1608.8 C2171.7 1609.2 2092.9 1607.7 2072.5 1607.5" fill="none" stroke="#a5afb5" stroke-width="3.2" stroke-linejoin="round" stroke-linecap="round"/>
<path d="M2200 1382.5 C2201.2 1388.8 2207.5 1405.4 2207.5 1420 C2207.5 1434.6 2202.9 1455.4 2200 1470 C2197.1 1484.6 2192.5 1495 2190 1507.5 C2187.5 1520 2186.7 1535.4 2185 1545 C2183.3 1554.6 2180.8 1561.7 2180 1565" fill="none" stroke="#a5afb5" stroke-width="3.2" stroke-linejoin="round" stroke-linecap="round"/>
<path d="M2210 1400 C2212.5 1398.8 2186 1393.8 2225 1392.5 C2264 1391.2 2407.5 1392.5 2444 1392.5" fill="none" stroke="#a5afb5" stroke-width="3.2" stroke-linejoin="round" stroke-linecap="round"/>
<path d="M2212.5 1405 C2212.9 1411.7 2215.4 1435.8 2215 1445 C2214.6 1454.2 2210.8 1457.5 2210 1460" fill="none" stroke="#a5afb5" stroke-width="3.2" stroke-linejoin="round" stroke-linecap="round"/>
<path d="M2215 1495 C2215.8 1499.2 2216.2 1515 2220 1520 C2223.8 1525 2200.2 1524.2 2237.5 1525 C2274.8 1525.8 2409.6 1525 2444 1525" fill="none" stroke="#a5afb5" stroke-width="3.2" stroke-linejoin="round" stroke-linecap="round"/>
<path d="M2210 1581.2 C2212.5 1579 2186 1570 2225 1567.5 C2264 1565 2407.5 1566.5 2444 1566.2" fill="none" stroke="#a5afb5" stroke-width="3.2" stroke-linejoin="round" stroke-linecap="round"/>
<path d="M2213.1 1477.9L2213.1 1410.3Q2213.1 1391.7 2235.3 1391.7L2508.0 1391.7Q2538.3 1394.0 2547.6 1426.6L2556.9 1461.6Q2562.8 1484.9 2554.6 1503.5Q2543.0 1526.9 2501.0 1526.9L2232.9 1526.9Q2216.6 1526.9 2216.6 1505.9L2216.6 1482.6" fill="none" stroke="#a5afb5" stroke-width="3.5" stroke-linejoin="round" stroke-linecap="round"/>
<path d="M2385.5 1215 C2385.9 1223.3 2388 1249.2 2388 1265 C2388 1280.8 2389.7 1295.8 2385.5 1310 C2381.3 1324.2 2366.8 1343.3 2363 1350" fill="none" stroke="#a5afb5" stroke-width="3.5" stroke-linejoin="round" stroke-linecap="round"/>
<path d="M2538 1307.5 C2538.4 1314.6 2543.8 1334.6 2540.5 1350 C2537.2 1365.4 2521.8 1391.7 2518 1400" fill="none" stroke="#a5afb5" stroke-width="3.5" stroke-linejoin="round" stroke-linecap="round"/>
<path d="M2288 1505 L2288 1567.5" fill="none" stroke="#a5afb5" stroke-width="3" stroke-linejoin="round" stroke-linecap="round"/>
<path d="M2345.5 1505 L2345.5 1567.5" fill="none" stroke="#a5afb5" stroke-width="3" stroke-linejoin="round" stroke-linecap="round"/>
<path d="M2403 1505 L2403 1567.5" fill="none" stroke="#a5afb5" stroke-width="3" stroke-linejoin="round" stroke-linecap="round"/>
<path d="M2462 1505 L2462 1567.5" fill="none" stroke="#a5afb5" stroke-width="3" stroke-linejoin="round" stroke-linecap="round"/>
<path d="M2188 1480 L2948 1480" fill="none" stroke="#a5afb5" stroke-width="4.5" stroke-linejoin="round" stroke-linecap="round"/>
<path d="M2949.5 1425.5H2800Q2782.5 1425.5 2782.5 1450Q2782.5 1477.5 2810 1477.5H2949.5Z" fill="none" stroke="#a5afb5" stroke-width="3.5"/>
<path d="M2949.5 1482.5H2800Q2772 1485 2772 1520V1582.5H2949.5Z" fill="none" stroke="#a5afb5" stroke-width="3.5"/>
<path d="M2216.8 1567 L2713 1567 L2668 1637.5 L2188 1637.5" fill="none" stroke="#a5afb5" stroke-width="4.5" stroke-linejoin="round" stroke-linecap="round"/>
<path d="M2324.2 1695 L2650.5 1695" fill="none" stroke="#a5afb5" stroke-width="4.5" stroke-linejoin="round" stroke-linecap="round"/>
<path d="M2324.2 1755 L2570.5 1755" fill="none" stroke="#a5afb5" stroke-width="4.5" stroke-linejoin="round" stroke-linecap="round"/>
<path d="M2233.5 1583.8 L2233.5 1705" fill="none" stroke="#a5afb5" stroke-width="4.5" stroke-linejoin="round" stroke-linecap="round"/>
<path d="M2324.2 1568.8 L2324.2 1756.2" fill="none" stroke="#a5afb5" stroke-width="4.5" stroke-linejoin="round" stroke-linecap="round"/>
<path d="M2396 1640 L2396 1776.2" fill="none" stroke="#a5afb5" stroke-width="4.5" stroke-linejoin="round" stroke-linecap="round"/>
<path d="M2440.5 1568.8 L2440.5 1755" fill="none" stroke="#a5afb5" stroke-width="4.5" stroke-linejoin="round" stroke-linecap="round"/>
<path d="M2463 1520 L2463 1755" fill="none" stroke="#a5afb5" stroke-width="4.5" stroke-linejoin="round" stroke-linecap="round"/>
<path d="M2570 1640 L2570 1756.2" fill="none" stroke="#a5afb5" stroke-width="4.5" stroke-linejoin="round" stroke-linecap="round"/>
<path d="M2583 1536.2 L2583 1755" fill="none" stroke="#a5afb5" stroke-width="4.5" stroke-linejoin="round" stroke-linecap="round"/>
<path d="M2287.2 1520 L2287.2 1567" fill="none" stroke="#a5afb5" stroke-width="4.5" stroke-linejoin="round" stroke-linecap="round"/>
<path d="M2344.8 1520 L2344.8 1567" fill="none" stroke="#a5afb5" stroke-width="4.5" stroke-linejoin="round" stroke-linecap="round"/>
<path d="M2403 1520 L2403 1567" fill="none" stroke="#a5afb5" stroke-width="4.5" stroke-linejoin="round" stroke-linecap="round"/>
<path d="M2505.7 1303.3 L2817.7 1145 L2886 1112" fill="none" stroke="#a5afb5" stroke-width="4" stroke-linejoin="round" stroke-linecap="round"/>
<path d="M2560 1325 L2505 1303 L2500 1340" fill="none" stroke="#a5afb5" stroke-width="3.5" stroke-linejoin="round" stroke-linecap="round"/>
<path d="M2756.5 1332.5 C2755.9 1338.8 2754 1357.9 2752.8 1370 C2751.5 1382.1 2752.5 1395.8 2749 1405 C2745.5 1414.2 2740.7 1418.3 2731.5 1425 C2722.3 1431.7 2708.6 1437.9 2694 1445 C2679.4 1452.1 2660.7 1462.9 2644 1467.5 C2627.3 1472.1 2606.5 1472.5 2594 1472.5 C2581.5 1472.5 2575.7 1472.1 2569 1467.5 C2562.3 1462.9 2556.5 1448.8 2554 1445" fill="none" stroke="#a5afb5" stroke-width="3.5" stroke-linejoin="round" stroke-linecap="round"/>
<path d="M2752.8 1370 C2753.8 1376.7 2757.5 1400 2759 1410 C2760.5 1420 2762.3 1423.3 2761.5 1430 C2760.7 1436.7 2757.8 1444.2 2754 1450 C2750.2 1455.8 2745.7 1460.8 2739 1465 C2732.3 1469.2 2723.6 1472.8 2714 1475 C2704.4 1477.2 2686.9 1477.5 2681.5 1478" fill="none" stroke="#a5afb5" stroke-width="3.5" stroke-linejoin="round" stroke-linecap="round"/>
<path d="M2606.5 1480 C2610.7 1482.5 2621.1 1490.6 2631.5 1495 C2641.9 1499.4 2656.5 1505.4 2669 1506.2 C2681.5 1507.1 2696.1 1503.1 2706.5 1500 C2716.9 1496.9 2721.1 1490.4 2731.5 1487.5 C2741.9 1484.6 2762.8 1483.3 2769 1482.5" fill="none" stroke="#a5afb5" stroke-width="3.5" stroke-linejoin="round" stroke-linecap="round"/>
<path d="M2559 1502.5 C2569 1502.7 2604.8 1502.5 2619 1503.8 C2633.2 1505 2633.6 1507.5 2644 1510 C2654.4 1512.5 2669 1518.3 2681.5 1518.8 C2694 1519.2 2706.5 1514.6 2719 1512.5 C2731.5 1510.4 2747.8 1505.8 2756.5 1506.2 C2765.2 1506.7 2769 1513.5 2771.5 1515" fill="none" stroke="#a5afb5" stroke-width="3.5" stroke-linejoin="round" stroke-linecap="round"/>
<path d="M2564 1465 C2569 1465.8 2584.8 1470 2594 1470 C2603.2 1470 2608.6 1468.3 2619 1465 C2629.4 1461.7 2644 1454.2 2656.5 1450 C2669 1445.8 2683.6 1441.2 2694 1440 C2704.4 1438.8 2710.7 1440.4 2719 1442.5 C2727.3 1444.6 2736.1 1448.8 2744 1452.5 C2751.9 1456.2 2759 1460.8 2766.5 1465 C2774 1469.2 2785.2 1475.4 2789 1477.5" fill="none" stroke="#a5afb5" stroke-width="3.5" stroke-linejoin="round" stroke-linecap="round"/>
<path d="M2759 1457.5 C2761.5 1457.1 2770 1457.1 2774 1455 C2778 1452.9 2781.3 1446.7 2782.8 1445" fill="none" stroke="#a5afb5" stroke-width="3.5" stroke-linejoin="round" stroke-linecap="round"/></g>
<g id="s4_rail"><path d="M310 822.5 C325 823.1 368.3 819.4 400 826 C431.7 832.6 466.7 843.3 500 862 C533.3 880.7 558.3 905.8 600 938 C641.7 970.2 689.2 1010.5 750 1055 C810.8 1099.5 929.2 1180 965 1205" fill="none" stroke="#667076" stroke-width="7" stroke-linejoin="round"/>
<path d="M310 822.5 C325 823.1 368.3 819.4 400 826 C431.7 832.6 466.7 843.3 500 862 C533.3 880.7 558.3 905.8 600 938 C641.7 970.2 689.2 1010.5 750 1055 C810.8 1099.5 929.2 1180 965 1205" fill="none" stroke="#e3e6e8" stroke-width="2.5" stroke-dasharray="40 38" stroke-dashoffset="0"/>
<path d="M250 842 C275 841.3 358.3 832.3 400 838 C441.7 843.7 466.7 857.3 500 876 C533.3 894.7 558.3 918.3 600 950 C641.7 981.7 689.7 1022 750 1066 C810.3 1110 926.7 1189.3 962 1214" fill="none" stroke="#667076" stroke-width="7" stroke-linejoin="round"/>
<path d="M250 842 C275 841.3 358.3 832.3 400 838 C441.7 843.7 466.7 857.3 500 876 C533.3 894.7 558.3 918.3 600 950 C641.7 981.7 689.7 1022 750 1066 C810.3 1110 926.7 1189.3 962 1214" fill="none" stroke="#e3e6e8" stroke-width="2.5" stroke-dasharray="40 38" stroke-dashoffset="0"/>
<path d="M795 694 C786.7 699.2 760.5 712 745 725 C729.5 738 714.2 754.5 702 772 C689.8 789.5 678.5 810.3 672 830 C665.5 849.7 662.5 870 663 890 C663.5 910 668.8 931.7 675 950 C681.2 968.3 687.5 983 700 1000 C712.5 1017 725 1032 750 1052 C775 1072 813.8 1095.3 850 1120 C886.2 1144.7 947.5 1186.7 967 1200" fill="none" stroke="#667076" stroke-width="6" stroke-linejoin="round"/>
<path d="M795 694 C786.7 699.2 760.5 712 745 725 C729.5 738 714.2 754.5 702 772 C689.8 789.5 678.5 810.3 672 830 C665.5 849.7 662.5 870 663 890 C663.5 910 668.8 931.7 675 950 C681.2 968.3 687.5 983 700 1000 C712.5 1017 725 1032 750 1052 C775 1072 813.8 1095.3 850 1120 C886.2 1144.7 947.5 1186.7 967 1200" fill="none" stroke="#e3e6e8" stroke-width="2.5" stroke-dasharray="40 38" stroke-dashoffset="0"/>
<path d="M-5 903 L1288 564 L2000 377.5 L2300 290 L2500 222 L2700 163 L2850 120 L3039 65 L3345 -30" fill="none" stroke="#667076" stroke-width="9" stroke-linejoin="round"/>
<path d="M-5 903 L1288 564 L2000 377.5 L2300 290 L2500 222 L2700 163 L2850 120 L3039 65 L3345 -30" fill="none" stroke="#e3e6e8" stroke-width="3" stroke-dasharray="40 38" stroke-dashoffset="0"/>
<path d="M2300 300 C2333.3 288.7 2429.7 252.3 2500 232 C2570.3 211.7 2667.3 192.8 2722 178 C2776.7 163.2 2792.8 152 2828 143 C2863.2 134 2897.8 127.6 2933 124 C2968.2 120.4 2995 119.7 3039 121.5 C3083 123.3 3148.5 130.1 3197 135 C3245.5 139.9 3292 145.3 3330 151 C3368 156.7 3385.5 164.2 3425 169 C3464.5 173.8 3525.7 179.2 3567 180 C3608.3 180.8 3640.2 179 3673 174 C3705.8 169 3738.4 158.6 3764 150 C3789.6 141.4 3809.8 131.7 3826.5 122.5 C3843.2 113.3 3851.5 103.8 3864 95 C3876.5 86.2 3889 77.1 3901.5 70 C3914 62.9 3926.5 57.1 3939 52.5 C3951.5 47.9 3964 44.4 3976.5 42.5 C3989 40.6 4000.2 40.4 4014 41 C4027.8 41.6 4046.3 46.8 4059 46 C4071.7 45.2 4084.8 37.7 4090 36" fill="none" stroke="#667076" stroke-width="8" stroke-linejoin="round"/>
<path d="M2300 300 C2333.3 288.7 2429.7 252.3 2500 232 C2570.3 211.7 2667.3 192.8 2722 178 C2776.7 163.2 2792.8 152 2828 143 C2863.2 134 2897.8 127.6 2933 124 C2968.2 120.4 2995 119.7 3039 121.5 C3083 123.3 3148.5 130.1 3197 135 C3245.5 139.9 3292 145.3 3330 151 C3368 156.7 3385.5 164.2 3425 169 C3464.5 173.8 3525.7 179.2 3567 180 C3608.3 180.8 3640.2 179 3673 174 C3705.8 169 3738.4 158.6 3764 150 C3789.6 141.4 3809.8 131.7 3826.5 122.5 C3843.2 113.3 3851.5 103.8 3864 95 C3876.5 86.2 3889 77.1 3901.5 70 C3914 62.9 3926.5 57.1 3939 52.5 C3951.5 47.9 3964 44.4 3976.5 42.5 C3989 40.6 4000.2 40.4 4014 41 C4027.8 41.6 4046.3 46.8 4059 46 C4071.7 45.2 4084.8 37.7 4090 36" fill="none" stroke="#e3e6e8" stroke-width="3" stroke-dasharray="40 38" stroke-dashoffset="0"/>
<path d="M2300 291 C2323.3 285.7 2398.3 269.5 2440 259 C2481.7 248.5 2515 238.5 2550 228 C2585 217.5 2616.7 206.5 2650 196 C2683.3 185.5 2717.5 174.7 2750 165 C2782.5 155.3 2829.2 142.5 2845 138" fill="none" stroke="#667076" stroke-width="5.6"/>
<path d="M2300 291 C2323.3 285.7 2398.3 269.5 2440 259 C2481.7 248.5 2515 238.5 2550 228 C2585 217.5 2616.7 206.5 2650 196 C2683.3 185.5 2717.5 174.7 2750 165 C2782.5 155.3 2829.2 142.5 2845 138" fill="none" stroke="#e3e6e8" stroke-width="2" stroke-dasharray="30 24" stroke-dashoffset="0"/>
<path d="M2300 291 C2323.3 286.6 2398.3 273.7 2440 264.5 C2481.7 255.3 2515 246.1 2550 236 C2585 225.9 2616.7 214.9 2650 204 C2683.3 193.1 2717.5 181.5 2750 170.5 C2782.5 159.5 2829.2 143.4 2845 138" fill="none" stroke="#667076" stroke-width="5.6"/>
<path d="M2300 291 C2323.3 286.6 2398.3 273.7 2440 264.5 C2481.7 255.3 2515 246.1 2550 236 C2585 225.9 2616.7 214.9 2650 204 C2683.3 193.1 2717.5 181.5 2750 170.5 C2782.5 159.5 2829.2 143.4 2845 138" fill="none" stroke="#e3e6e8" stroke-width="2" stroke-dasharray="30 24" stroke-dashoffset="17"/>
<path d="M2300 291 C2323.3 287.5 2398.3 277.8 2440 270 C2481.7 262.2 2515 253.7 2550 244 C2585 234.3 2616.7 223.3 2650 212 C2683.3 200.7 2717.5 188.3 2750 176 C2782.5 163.7 2829.2 144.3 2845 138" fill="none" stroke="#667076" stroke-width="5.6"/>
<path d="M2300 291 C2323.3 287.5 2398.3 277.8 2440 270 C2481.7 262.2 2515 253.7 2550 244 C2585 234.3 2616.7 223.3 2650 212 C2683.3 200.7 2717.5 188.3 2750 176 C2782.5 163.7 2829.2 144.3 2845 138" fill="none" stroke="#e3e6e8" stroke-width="2" stroke-dasharray="30 24" stroke-dashoffset="34"/>
<path d="M2300 291 C2323.3 288.4 2398.3 282 2440 275.5 C2481.7 269 2515 261.2 2550 252 C2585 242.8 2616.7 231.8 2650 220 C2683.3 208.2 2717.5 195.2 2750 181.5 C2782.5 167.8 2829.2 145.2 2845 138" fill="none" stroke="#667076" stroke-width="5.6"/>
<path d="M2300 291 C2323.3 288.4 2398.3 282 2440 275.5 C2481.7 269 2515 261.2 2550 252 C2585 242.8 2616.7 231.8 2650 220 C2683.3 208.2 2717.5 195.2 2750 181.5 C2782.5 167.8 2829.2 145.2 2845 138" fill="none" stroke="#e3e6e8" stroke-width="2" stroke-dasharray="30 24" stroke-dashoffset="51"/>
<path d="M2300 291 C2323.3 289.3 2398.3 286.2 2440 281 C2481.7 275.8 2515 268.8 2550 260 C2585 251.2 2616.7 240.2 2650 228 C2683.3 215.8 2717.5 202 2750 187 C2782.5 172 2829.2 146.2 2845 138" fill="none" stroke="#667076" stroke-width="5.6"/>
<path d="M2300 291 C2323.3 289.3 2398.3 286.2 2440 281 C2481.7 275.8 2515 268.8 2550 260 C2585 251.2 2616.7 240.2 2650 228 C2683.3 215.8 2717.5 202 2750 187 C2782.5 172 2829.2 146.2 2845 138" fill="none" stroke="#e3e6e8" stroke-width="2" stroke-dasharray="30 24" stroke-dashoffset="68"/>
<path d="M2243 1467.5 C2283.8 1467.1 2430.5 1467.1 2488 1465 C2545.5 1462.9 2561 1459.7 2588 1455 C2615 1450.3 2631.3 1444 2650 1437 C2668.7 1430 2683.3 1422.8 2700 1413.3 C2716.7 1403.8 2733.3 1393.9 2750 1380 C2766.7 1366.1 2783.3 1347.8 2800 1330 C2816.7 1312.2 2833.3 1290.5 2850 1273.3 C2866.7 1256.1 2880.6 1241.1 2900 1226.7 C2919.4 1212.3 2944.5 1197.3 2966.7 1186.7 C2988.9 1176.1 3013.9 1168.3 3033.3 1163.3 C3052.7 1158.3 3061.1 1157.2 3083.3 1156.7 C3105.5 1156.2 3087.5 1156.7 3166.7 1160 C3245.9 1163.3 3442.5 1173.7 3558.7 1176.7 C3674.9 1179.7 3775.4 1177.6 3864 1178 C3952.6 1178.4 4052.3 1178.8 4090 1179" fill="none" stroke="#667076" stroke-width="7" stroke-linejoin="round"/>
<path d="M2243 1467.5 C2283.8 1467.1 2430.5 1467.1 2488 1465 C2545.5 1462.9 2561 1459.7 2588 1455 C2615 1450.3 2631.3 1444 2650 1437 C2668.7 1430 2683.3 1422.8 2700 1413.3 C2716.7 1403.8 2733.3 1393.9 2750 1380 C2766.7 1366.1 2783.3 1347.8 2800 1330 C2816.7 1312.2 2833.3 1290.5 2850 1273.3 C2866.7 1256.1 2880.6 1241.1 2900 1226.7 C2919.4 1212.3 2944.5 1197.3 2966.7 1186.7 C2988.9 1176.1 3013.9 1168.3 3033.3 1163.3 C3052.7 1158.3 3061.1 1157.2 3083.3 1156.7 C3105.5 1156.2 3087.5 1156.7 3166.7 1160 C3245.9 1163.3 3442.5 1173.7 3558.7 1176.7 C3674.9 1179.7 3775.4 1177.6 3864 1178 C3952.6 1178.4 4052.3 1178.8 4090 1179" fill="none" stroke="#e3e6e8" stroke-width="2.5" stroke-dasharray="40 38" stroke-dashoffset="0"/></g>
<g id="s5_bld"><rect x="1947.5" y="1346" width="25" height="224" fill="#a5afb5"/>
<rect x="1972.5" y="1361" width="17.5" height="200" fill="#b9c0c5"/>
<rect x="1876.2" y="1300.5" width="18.2" height="337" fill="#e31513"/>
<rect x="1909.2" y="1300.5" width="160.2" height="12.5" fill="#e31513"/>
<rect x="1894" y="1305" width="16" height="2" fill="#e31513"/>
<rect x="1894.5" y="1392" width="53" height="140.5" fill="#e31513"/>
<rect x="1947.5" y="1405" width="32" height="111.2" fill="#e31513"/>
<rect x="1902" y="1538.8" width="36.8" height="61.8" fill="#e31513"/>
<rect x="1956.8" y="1579.5" width="92.5" height="23" fill="#e31513"/>
<rect x="1907.5" y="1610.5" width="162" height="13.2" fill="#e31513"/>
<rect x="1894" y="1616" width="14" height="3" fill="#e31513"/>
<rect x="1862" y="1311.5" width="15" height="3" fill="#e31513"/>
<rect x="1862" y="1332.2" width="15" height="3" fill="#e31513"/>
<rect x="1862" y="1351" width="15" height="3" fill="#e31513"/>
<rect x="1862" y="1371" width="15" height="3" fill="#e31513"/>
<rect x="1862" y="1391" width="15" height="3" fill="#e31513"/>
<rect x="1862" y="1411.5" width="15" height="3" fill="#e31513"/>
<rect x="1862" y="1431" width="15" height="3" fill="#e31513"/>
<rect x="1862" y="1469.5" width="15" height="3" fill="#e31513"/>
<rect x="1862" y="1494.5" width="15" height="3" fill="#e31513"/>
<rect x="1862" y="1509.5" width="15" height="3" fill="#e31513"/>
<rect x="1862" y="1529.5" width="15" height="3" fill="#e31513"/>
<rect x="1862" y="1549.5" width="15" height="3" fill="#e31513"/>
<rect x="1862" y="1568.5" width="15" height="3" fill="#e31513"/>
<rect x="1862" y="1609.5" width="15" height="3" fill="#e31513"/>
<rect x="1855" y="1589" width="22" height="3.5" fill="#e31513"/>
<rect x="1858" y="1470" width="19" height="3" fill="#e31513"/>
<rect x="1878.7" y="1623" width="2.6" height="14" fill="#e31513"/>
<rect x="1907.7" y="1623" width="2.6" height="14" fill="#e31513"/>
<rect x="1923.7" y="1623" width="2.6" height="14" fill="#e31513"/>
<rect x="1939.7" y="1623" width="2.6" height="14" fill="#e31513"/>
<rect x="1955.7" y="1623" width="2.6" height="14" fill="#e31513"/>
<rect x="1971.7" y="1623" width="2.6" height="14" fill="#e31513"/>
<rect x="1987.7" y="1623" width="2.6" height="14" fill="#e31513"/>
<rect x="2003.7" y="1623" width="2.6" height="14" fill="#e31513"/>
<rect x="2019.7" y="1623" width="2.6" height="14" fill="#e31513"/>
<rect x="2035.7" y="1623" width="2.6" height="14" fill="#e31513"/>
<rect x="2051.7" y="1623" width="2.6" height="14" fill="#e31513"/>
<rect x="2065.7" y="1623" width="2.6" height="14" fill="#e31513"/>
<path d="M1896.2 1413h16v16h-16z" fill="#8f1230"/>
<path d="M1896.2 1418.3h16M1896.2 1423.6h16M1901.5 1413v16M1906.8 1413v16M1896.2 1429l16-16M1896.2 1423.7l10.7-10.7M1896.2 1418.3l5.3-5.3M1901.5 1429l10.7-10.7M1907 1429l5.3-5.3" stroke="#e31513" stroke-width="0.9" fill="none"/>
<path d="M1896.2 1433h16v16h-16z" fill="#8f1230"/>
<path d="M1896.2 1438.3h16M1896.2 1443.6h16M1901.5 1433v16M1906.8 1433v16M1896.2 1449l16-16M1896.2 1443.7l10.7-10.7M1896.2 1438.3l5.3-5.3M1901.5 1449l10.7-10.7M1907 1449l5.3-5.3" stroke="#e31513" stroke-width="0.9" fill="none"/>
<path d="M1896.2 1453h16v16h-16z" fill="#8f1230"/>
<path d="M1896.2 1458.3h16M1896.2 1463.6h16M1901.5 1453v16M1906.8 1453v16M1896.2 1469l16-16M1896.2 1463.7l10.7-10.7M1896.2 1458.3l5.3-5.3M1901.5 1469l10.7-10.7M1907 1469l5.3-5.3" stroke="#e31513" stroke-width="0.9" fill="none"/>
<path d="M1896.2 1473h16v16h-16z" fill="#8f1230"/>
<path d="M1896.2 1478.3h16M1896.2 1483.6h16M1901.5 1473v16M1906.8 1473v16M1896.2 1489l16-16M1896.2 1483.7l10.7-10.7M1896.2 1478.3l5.3-5.3M1901.5 1489l10.7-10.7M1907 1489l5.3-5.3" stroke="#e31513" stroke-width="0.9" fill="none"/>
<path d="M1896.2 1493h16v16h-16z" fill="#8f1230"/>
<path d="M1896.2 1498.3h16M1896.2 1503.6h16M1901.5 1493v16M1906.8 1493v16M1896.2 1509l16-16M1896.2 1503.7l10.7-10.7M1896.2 1498.3l5.3-5.3M1901.5 1509l10.7-10.7M1907 1509l5.3-5.3" stroke="#e31513" stroke-width="0.9" fill="none"/>
<path d="M1916.2 1413h16v16h-16z" fill="#8f1230"/>
<path d="M1916.2 1418.3h16M1916.2 1423.6h16M1921.5 1413v16M1926.8 1413v16M1916.2 1429l16-16M1916.2 1423.7l10.7-10.7M1916.2 1418.3l5.3-5.3M1921.5 1429l10.7-10.7M1927 1429l5.3-5.3" stroke="#e31513" stroke-width="0.9" fill="none"/>
<path d="M1916.2 1433h16v16h-16z" fill="#8f1230"/>
<path d="M1916.2 1438.3h16M1916.2 1443.6h16M1921.5 1433v16M1926.8 1433v16M1916.2 1449l16-16M1916.2 1443.7l10.7-10.7M1916.2 1438.3l5.3-5.3M1921.5 1449l10.7-10.7M1927 1449l5.3-5.3" stroke="#e31513" stroke-width="0.9" fill="none"/>
<path d="M1916.2 1453h16v16h-16z" fill="#8f1230"/>
<path d="M1916.2 1458.3h16M1916.2 1463.6h16M1921.5 1453v16M1926.8 1453v16M1916.2 1469l16-16M1916.2 1463.7l10.7-10.7M1916.2 1458.3l5.3-5.3M1921.5 1469l10.7-10.7M1927 1469l5.3-5.3" stroke="#e31513" stroke-width="0.9" fill="none"/>
<path d="M1916.2 1473h16v16h-16z" fill="#8f1230"/>
<path d="M1916.2 1478.3h16M1916.2 1483.6h16M1921.5 1473v16M1926.8 1473v16M1916.2 1489l16-16M1916.2 1483.7l10.7-10.7M1916.2 1478.3l5.3-5.3M1921.5 1489l10.7-10.7M1927 1489l5.3-5.3" stroke="#e31513" stroke-width="0.9" fill="none"/>
<path d="M1916.2 1493h16v16h-16z" fill="#8f1230"/>
<path d="M1916.2 1498.3h16M1916.2 1503.6h16M1921.5 1493v16M1926.8 1493v16M1916.2 1509l16-16M1916.2 1503.7l10.7-10.7M1916.2 1498.3l5.3-5.3M1921.5 1509l10.7-10.7M1927 1509l5.3-5.3" stroke="#e31513" stroke-width="0.9" fill="none"/>
<path d="M1936.2 1413h16v16h-16z" fill="#8f1230"/>
<path d="M1936.2 1418.3h16M1936.2 1423.6h16M1941.5 1413v16M1946.8 1413v16M1936.2 1429l16-16M1936.2 1423.7l10.7-10.7M1936.2 1418.3l5.3-5.3M1941.5 1429l10.7-10.7M1947 1429l5.3-5.3" stroke="#e31513" stroke-width="0.9" fill="none"/>
<path d="M1936.2 1433h16v16h-16z" fill="#8f1230"/>
<path d="M1936.2 1438.3h16M1936.2 1443.6h16M1941.5 1433v16M1946.8 1433v16M1936.2 1449l16-16M1936.2 1443.7l10.7-10.7M1936.2 1438.3l5.3-5.3M1941.5 1449l10.7-10.7M1947 1449l5.3-5.3" stroke="#e31513" stroke-width="0.9" fill="none"/>
<path d="M1936.2 1453h16v16h-16z" fill="#8f1230"/>
<path d="M1936.2 1458.3h16M1936.2 1463.6h16M1941.5 1453v16M1946.8 1453v16M1936.2 1469l16-16M1936.2 1463.7l10.7-10.7M1936.2 1458.3l5.3-5.3M1941.5 1469l10.7-10.7M1947 1469l5.3-5.3" stroke="#e31513" stroke-width="0.9" fill="none"/>
<path d="M1936.2 1473h16v16h-16z" fill="#8f1230"/>
<path d="M1936.2 1478.3h16M1936.2 1483.6h16M1941.5 1473v16M1946.8 1473v16M1936.2 1489l16-16M1936.2 1483.7l10.7-10.7M1936.2 1478.3l5.3-5.3M1941.5 1489l10.7-10.7M1947 1489l5.3-5.3" stroke="#e31513" stroke-width="0.9" fill="none"/>
<path d="M1936.2 1493h16v16h-16z" fill="#8f1230"/>
<path d="M1936.2 1498.3h16M1936.2 1503.6h16M1941.5 1493v16M1946.8 1493v16M1936.2 1509l16-16M1936.2 1503.7l10.7-10.7M1936.2 1498.3l5.3-5.3M1941.5 1509l10.7-10.7M1947 1509l5.3-5.3" stroke="#e31513" stroke-width="0.9" fill="none"/>
<path d="M1956.2 1413h16v16h-16z" fill="#8f1230"/>
<path d="M1956.2 1418.3h16M1956.2 1423.6h16M1961.5 1413v16M1966.8 1413v16M1956.2 1429l16-16M1956.2 1423.7l10.7-10.7M1956.2 1418.3l5.3-5.3M1961.5 1429l10.7-10.7M1967 1429l5.3-5.3" stroke="#e31513" stroke-width="0.9" fill="none"/>
<path d="M1956.2 1433h16v16h-16z" fill="#8f1230"/>
<path d="M1956.2 1438.3h16M1956.2 1443.6h16M1961.5 1433v16M1966.8 1433v16M1956.2 1449l16-16M1956.2 1443.7l10.7-10.7M1956.2 1438.3l5.3-5.3M1961.5 1449l10.7-10.7M1967 1449l5.3-5.3" stroke="#e31513" stroke-width="0.9" fill="none"/>
<path d="M1956.2 1453h16v16h-16z" fill="#8f1230"/>
<path d="M1956.2 1458.3h16M1956.2 1463.6h16M1961.5 1453v16M1966.8 1453v16M1956.2 1469l16-16M1956.2 1463.7l10.7-10.7M1956.2 1458.3l5.3-5.3M1961.5 1469l10.7-10.7M1967 1469l5.3-5.3" stroke="#e31513" stroke-width="0.9" fill="none"/>
<path d="M1956.2 1473h16v16h-16z" fill="#8f1230"/>
<path d="M1956.2 1478.3h16M1956.2 1483.6h16M1961.5 1473v16M1966.8 1473v16M1956.2 1489l16-16M1956.2 1483.7l10.7-10.7M1956.2 1478.3l5.3-5.3M1961.5 1489l10.7-10.7M1967 1489l5.3-5.3" stroke="#e31513" stroke-width="0.9" fill="none"/>
<path d="M1956.2 1493h16v16h-16z" fill="#8f1230"/>
<path d="M1956.2 1498.3h16M1956.2 1503.6h16M1961.5 1493v16M1966.8 1493v16M1956.2 1509l16-16M1956.2 1503.7l10.7-10.7M1956.2 1498.3l5.3-5.3M1961.5 1509l10.7-10.7M1967 1509l5.3-5.3" stroke="#e31513" stroke-width="0.9" fill="none"/>
<rect x="1992" y="1373" width="71.2" height="21.2" fill="#e31513"/>
<rect x="2072" y="1373" width="71" height="21.2" fill="#e31513"/>
<rect x="1992" y="1526.2" width="71.2" height="21.8" fill="#e31513"/>
<rect x="2072" y="1526.2" width="71" height="21.8" fill="#7f0f31"/>
<path d="M1994.5 1403H2030.2V1429.5H1994.5ZM2001.2 1410.5V1421.8H2008.8V1410.5ZM2015.8 1410.5V1421.8H2023.8V1410.5Z" fill="#e31513" fill-rule="evenodd"/>
<path d="M2040 1403H2065V1429.5H2040ZM2048.2 1410.5V1421.8H2057V1410.5Z" fill="#7f0f31" fill-rule="evenodd"/>
<path d="M2072 1403H2096.5V1429.5H2072ZM2079.5 1410.5V1421.8H2088.8V1410.5Z" fill="#7f0f31" fill-rule="evenodd"/>
<path d="M2104.5 1403H2143.2V1429.5H2104.5ZM2111.8 1410.5V1421.8H2120V1410.5ZM2127.5 1410.5V1421.8H2135.8V1410.5Z" fill="#7f0f31" fill-rule="evenodd"/>
<path d="M1994.5 1491.2H2030.2V1518.2H1994.5ZM2002.5 1500V1510H2021.8V1500Z" fill="#e31513" fill-rule="evenodd"/>
<path d="M2040 1491.2H2065V1518.2H2040ZM2048.2 1498.8V1510.5H2057V1498.8Z" fill="#7f0f31" fill-rule="evenodd"/>
<path d="M2072 1491.2H2096.5V1518.2H2072ZM2079.5 1498.8V1510.5H2088.8V1498.8Z" fill="#7f0f31" fill-rule="evenodd"/>
<path d="M2104.5 1491.2H2143.2V1518.2H2104.5ZM2111.8 1498.8V1510.5H2120V1498.8ZM2127.5 1498.8V1510.5H2135.8V1498.8Z" fill="#7f0f31" fill-rule="evenodd"/>
<rect x="1990" y="1436.8" width="16.2" height="48.2" fill="#e31513"/>
<rect x="2006.25" y="1437" width="57" height="47.5" fill="none" stroke="#8d989f" stroke-width="1"/>
<rect x="2078.8" y="1301.2" width="29.2" height="11.8" fill="#7f0f31"/>
<rect x="2078.8" y="1322.5" width="29.2" height="11.2" fill="#7f0f31"/>
<rect x="2112.5" y="1301.2" width="29" height="11.8" fill="#7f0f31"/>
<rect x="2112.5" y="1322.5" width="29" height="11.2" fill="#7f0f31"/>
<rect x="2147" y="1301.2" width="28.8" height="11.8" fill="#7f0f31"/>
<rect x="2147" y="1322.5" width="28.8" height="11.2" fill="#7f0f31"/>
<rect x="2181.2" y="1301.2" width="27.8" height="32.5" fill="#7f0f31"/>
<rect x="2217" y="1302.5" width="6.8" height="11.2" fill="#e31513"/>
<rect x="2079.5" y="1587.5" width="28" height="14.5" fill="#7f0f31"/>
<rect x="2079.5" y="1610.5" width="28" height="13.2" fill="#7f0f31"/>
<rect x="2113.8" y="1587.5" width="27.8" height="14.5" fill="#7f0f31"/>
<rect x="2113.8" y="1610.5" width="27.8" height="13.2" fill="#7f0f31"/>
<rect x="2147.5" y="1587.5" width="27.5" height="14.5" fill="#7f0f31"/>
<rect x="2147.5" y="1610.5" width="27.5" height="13.2" fill="#7f0f31"/>
<rect x="2181.2" y="1610.5" width="27.8" height="13.2" fill="#7f0f31"/>
<rect x="1996.2" y="1377.5" width="14.5" height="15" fill="#16181b"/>
<text x="2003.5" y="1389.8" font-size="13" fill="#fff" text-anchor="middle">P</text>
<rect x="2076" y="1377.5" width="14.5" height="15" fill="#16181b"/>
<text x="2083.2" y="1389.8" font-size="13" fill="#fff" text-anchor="middle">P</text>
<rect x="1996.2" y="1530.5" width="14.5" height="15" fill="#16181b"/>
<text x="2003.5" y="1542.8" font-size="13" fill="#fff" text-anchor="middle">P</text>
<rect x="2076" y="1530.5" width="14.5" height="15" fill="#16181b"/>
<text x="2083.2" y="1542.8" font-size="13" fill="#fff" text-anchor="middle">P</text>
<rect x="1913" y="1543" width="14.5" height="15" fill="#16181b"/>
<text x="1920.2" y="1555.3" font-size="13" fill="#fff" text-anchor="middle">P</text>
<rect x="1960.5" y="1584" width="14.5" height="14.5" fill="#16181b"/>
<rect x="1963.5" y="1591" width="8.5" height="3.5" fill="#fff"/>
<rect x="1966" y="1587" width="3.5" height="1.5" fill="#fff"/>
<path d="M2234.25 1335.5H2316.5V1356h-2.5v6h2.5V1370H2234.25V1362h2.5v-6h-2.5Z" fill="#e31513"/>
<path d="M2422 1335H2502V1356h-2.5v6h2.5V1369H2422V1362h2.5v-6h-2.5Z" fill="#7f0f31"/>
<rect x="2239.5" y="1404.2" width="39.5" height="23.8" fill="#7f0f31"/>
<rect x="2298" y="1404.2" width="40" height="23.8" fill="#7f0f31"/>
<rect x="2358" y="1404.2" width="39.5" height="23.8" fill="#7f0f31"/>
<rect x="2415.5" y="1404.2" width="40" height="23.8" fill="#7f0f31"/>
<rect x="2474.5" y="1404.2" width="40" height="23.8" fill="#7f0f31"/>
<rect x="2236.5" y="1493" width="41.5" height="24.5" fill="#7f0f31"/>
<rect x="2295.5" y="1493" width="41.5" height="24.5" fill="#7f0f31"/>
<rect x="2354.5" y="1493" width="40" height="24.5" fill="#7f0f31"/>
<rect x="2414" y="1493" width="40" height="24.5" fill="#7f0f31"/>
<rect x="2473" y="1493" width="41" height="24.5" fill="#7f0f31"/>
<rect x="2236.5" y="1535.5" width="42.5" height="28" fill="#7f0f31"/>
<rect x="2296.5" y="1535.5" width="41" height="28" fill="#7f0f31"/>
<rect x="2550" y="1536.2" width="9.5" height="28.5" fill="#e31513"/>
<rect x="2589" y="1535" width="16.8" height="5" fill="#e31513"/>
<rect x="2619.8" y="1536.2" width="14.8" height="28.2" fill="#7f0f31"/>
<path d="M2651 1536.2H2693.5V1564.5H2651ZM2659 1543.8V1556.2H2667.8V1543.8ZM2676.5 1543.8V1556.2H2686V1543.8Z" fill="#7f0f31" fill-rule="evenodd"/>
<rect x="2701.5" y="1536.2" width="15" height="28.2" fill="#7f0f31"/>
<polygon points="2730.2,1536.2 2744.8,1536.2 2744.8,1541.8 2735.8,1541.8 2735.8,1558.2 2744.8,1558.2 2744.8,1563.8 2730.2,1563.8" fill="#7f0f31"/>
<polygon points="2768.5,1536.2 2754,1536.2 2754,1541.8 2763,1541.8 2763,1558.2 2754,1558.2 2754,1563.8 2768.5,1563.8" fill="#7f0f31"/>
<rect x="2188" y="1610.5" width="20.8" height="13.2" fill="#7f0f31"/>
<rect x="2238.5" y="1584.5" width="11.2" height="36" fill="#e31513"/>
<rect x="2265.5" y="1584.5" width="41.2" height="21.2" fill="#7f0f31"/>
<rect x="2289.8" y="1611.2" width="9" height="13.2" fill="#e31513"/>
<rect x="2331.8" y="1583.8" width="22.5" height="40" fill="#e31513"/>
<path d="M2368 1582.5H2391.8V1622.5H2368ZM2375.5 1587V1600H2383V1587ZM2379.2 1606.2V1616.2H2388V1606.2Z" fill="#7f0f31" fill-rule="evenodd"/>
<path d="M2404.2 1582.5H2426.8V1622.5H2404.2ZM2409.2 1587V1600H2418V1587ZM2414.2 1606.2V1616.2H2422.2V1606.2Z" fill="#7f0f31" fill-rule="evenodd"/>
<rect x="2391" y="1606.2" width="14" height="10" fill="#7f0f31"/>
<rect x="2448" y="1596.2" width="8" height="10" fill="#e31513"/>
<rect x="2447.2" y="1622.5" width="10.2" height="6.8" fill="#e31513"/>
<rect x="2475.5" y="1584.5" width="22.5" height="23" fill="#e31513"/>
<rect x="2475.5" y="1584.5" width="52.5" height="5.5" fill="#e31513"/>
<rect x="2508" y="1590" width="6.2" height="17.5" fill="#e31513"/>
<rect x="2513" y="1610" width="6.2" height="6.2" fill="#e31513"/>
<rect x="2521.8" y="1593.8" width="6.2" height="22.5" fill="#e31513"/>
<rect x="2535.5" y="1583.8" width="25.8" height="36.2" fill="#7f0f31"/>
<rect x="2591.8" y="1583.8" width="40" height="13.8" fill="#7f0f31"/>
<rect x="2591.8" y="1608.8" width="40" height="14.2" fill="#7f0f31"/>
<rect x="2591.8" y="1597" width="8.2" height="12" fill="#7f0f31"/>
<rect x="2623.5" y="1597" width="8.2" height="12" fill="#7f0f31"/>
<rect x="2591" y="1600.7" width="9.5" height="4.6" fill="#e7eaed"/>
<rect x="2623" y="1600.7" width="9.5" height="4.6" fill="#e7eaed"/>
<path d="M2646.8 1582.5H2670.5V1622.5H2646.8ZM2653.5 1587V1600.5H2661.2V1587ZM2658 1606.2V1616.2H2665.5V1606.2Z" fill="#7f0f31" fill-rule="evenodd"/>
<rect x="2302.5" y="1648.8" width="6.8" height="7" fill="#e31513"/>
<rect x="2331.8" y="1646.8" width="22.5" height="38.2" fill="#e31513"/>
<rect x="2403" y="1647.5" width="21.8" height="37" fill="#e31513"/>
<path d="M2476.75 1651.25h8v5.75h14.5v-5.75h8.25V1684.5h-8.25v-5.75h-14.5v5.75h-8Z" fill="#e31513"/>
<rect x="2528.8" y="1645.8" width="26" height="8.8" fill="#e31513"/>
<path d="M2521.75 1669.25h7.5v3.75h24.5v-3.75h7.5V1685H2521.75Z" fill="#7f0f31"/>
<rect x="2591.8" y="1647" width="40" height="13" fill="#7f0f31"/>
<rect x="2591.8" y="1673" width="40" height="12.8" fill="#7f0f31"/>
<rect x="2591.8" y="1659" width="8.2" height="15" fill="#7f0f31"/>
<rect x="2623.5" y="1659" width="8.2" height="15" fill="#7f0f31"/>
<rect x="2591" y="1664.2" width="9.5" height="4.6" fill="#e7eaed"/>
<rect x="2623" y="1664.2" width="9.5" height="4.6" fill="#e7eaed"/>
<rect x="2331.8" y="1705" width="22.5" height="40" fill="#e31513"/>
<rect x="2403" y="1706.2" width="21.8" height="37.5" fill="#7f0f31"/>
<polygon points="2475,1706.2 2490.5,1706.2 2490.5,1712.8 2481.5,1712.8 2481.5,1737.2 2490.5,1737.2 2490.5,1743.8 2475,1743.8" fill="#7f0f31"/>
<rect x="2503" y="1706.2" width="8.2" height="37.5" fill="#7f0f31"/>
<polygon points="2525.5,1706.2 2541.2,1706.2 2541.2,1712.8 2532,1712.8 2532,1737.2 2541.2,1737.2 2541.2,1743.8 2525.5,1743.8" fill="#7f0f31"/>
<rect x="2552.5" y="1706.2" width="8.5" height="37.5" fill="#7f0f31"/>
<rect x="2592.5" y="1705.5" width="22.2" height="36.2" fill="#7f0f31"/>
<rect x="2314.8" y="1763.8" width="6.2" height="8.8" fill="#e31513"/>
<rect x="2384.2" y="1767" width="8.8" height="8.5" fill="#e31513"/>
<rect x="2737" y="1576.2" width="11" height="7.5" fill="#e31513" transform="rotate(-50 2742.5 1580)"/>
<rect x="2694.2" y="1620" width="11" height="7.5" fill="#e31513" transform="rotate(-50 2699.8 1623.8)"/>
<rect x="2681.2" y="1640" width="11" height="7.5" fill="#e31513" transform="rotate(-50 2686.8 1643.8)"/>
<path d="M2803.2 1435.5H2827.8V1469.5H2803.2ZM2811.5 1444.5V1465H2818.2V1444.5Z" fill="#7f0f31" fill-rule="evenodd"/>
<rect x="2803" y="1443" width="8.6" height="3" fill="#e7eaed"/>
<path d="M2836.5 1435.5H2899.5V1461.2H2836.5ZM2843.2 1443.2V1453.8H2857.8V1443.2ZM2864 1443.2V1453.8H2878.2V1443.2ZM2884.5 1443.2V1453.8H2894V1443.2Z" fill="#7f0f31" fill-rule="evenodd"/>
<path d="M2907 1435.5H2931.5V1469.5H2907ZM2914 1442.5V1462.5H2924.5V1442.5Z" fill="#7f0f31" fill-rule="evenodd"/>
<rect x="2906.5" y="1453" width="7.7" height="3" fill="#e7eaed"/>
<rect x="2924.3" y="1453" width="7.7" height="3" fill="#e7eaed"/>
<rect x="2956.5" y="1459.5" width="17" height="9.8" fill="#7f0f31"/>
<path d="M2803.2 1498H2827.8V1531.2H2803.2ZM2810.8 1503.8V1525H2820.2V1503.8Z" fill="#7f0f31" fill-rule="evenodd"/>
<rect x="2802.8" y="1508" width="8.2" height="3" fill="#e7eaed"/>
<path d="M2836.5 1507.5H2899.5V1531.2H2836.5ZM2843.2 1513.8V1524.2H2857.8V1513.8ZM2864 1513.8V1524.2H2878.2V1513.8ZM2884.5 1513.8V1524.2H2894V1513.8Z" fill="#7f0f31" fill-rule="evenodd"/>
<rect x="2909" y="1495.8" width="25" height="8" fill="#7f0f31"/>
<polygon points="2907,1510 2914,1510 2914,1524.2 2924.5,1524.2 2924.5,1510 2931.5,1510 2931.5,1531.2 2907,1531.2" fill="#7f0f31"/>
<ellipse cx="2961.5" cy="1498" rx="9" ry="6.5" fill="#7f0f31" transform="rotate(-35 2961.5 1498)"/>
<path d="M2788.2 1538H2819V1565.5H2788.2ZM2795.8 1543.8V1558.8H2812.8V1543.8Z" fill="#7f0f31" fill-rule="evenodd"/>
<rect x="2787.8" y="1549" width="8.2" height="3" fill="#e7eaed"/>
<polygon points="2825.2,1551.2 2839.8,1551.2 2839.8,1557.2 2831.2,1557.2 2831.2,1566.5 2839.8,1566.5 2839.8,1572.5 2825.2,1572.5" fill="#7f0f31"/>
<polygon points="2848.5,1551.2 2863,1551.2 2863,1557.2 2854.5,1557.2 2854.5,1566.5 2863,1566.5 2863,1572.5 2848.5,1572.5" fill="#7f0f31"/>
<polygon points="2872.8,1551.2 2887.2,1551.2 2887.2,1557.2 2878.8,1557.2 2878.8,1566.5 2887.2,1566.5 2887.2,1572.5 2872.8,1572.5" fill="#7f0f31"/>
<polygon points="2896.5,1551.2 2911,1551.2 2911,1557.2 2902.5,1557.2 2902.5,1566.5 2911,1566.5 2911,1572.5 2896.5,1572.5" fill="#7f0f31"/>
<polygon points="2934.8,1551.2 2920.2,1551.2 2920.2,1557.2 2928.8,1557.2 2928.8,1566.5 2920.2,1566.5 2920.2,1572.5 2934.8,1572.5" fill="#7f0f31"/>
<polygon points="2954,1551.2 2960.5,1551.2 2960.5,1566 2967.2,1566 2967.2,1572.5 2954,1572.5" fill="#7f0f31"/>
<polygon points="2795.8,1373.8 2817,1373.8 2817,1380 2802,1380 2802,1389.5 2817,1389.5 2817,1395.8 2795.8,1395.8" fill="#7f0f31"/>
<polygon points="2826.5,1373.8 2833,1373.8 2833,1382.2 2840.5,1382.2 2840.5,1373.8 2847,1373.8 2847,1388.8 2826.5,1388.8" fill="#7f0f31"/>
<polygon points="2805.8,1404.2 2812.2,1404.2 2812.2,1412.8 2820,1412.8 2820,1404.2 2826.5,1404.2 2826.5,1419.2 2805.8,1419.2" fill="#7f0f31"/>
<polygon points="2857.2,1397.5 2836.5,1397.5 2836.5,1404 2850.8,1404 2850.8,1412.8 2836.5,1412.8 2836.5,1419.2 2857.2,1419.2" fill="#7f0f31"/>
<polygon points="2868.2,1404.2 2874.8,1404.2 2874.8,1412.8 2882.5,1412.8 2882.5,1404.2 2889,1404.2 2889,1419.2 2868.2,1419.2" fill="#7f0f31"/>
<rect x="2537.5" y="1325.8" width="8" height="6" fill="#e31513" transform="rotate(40 2541.5 1328.8)"/>
<rect x="2557.8" y="1361.8" width="30" height="24" fill="#e31513" transform="rotate(25 2572.8 1373.8)"/>
<rect x="2581.8" y="1335.5" width="12" height="14" fill="#e31513" transform="rotate(25 2587.8 1342.5)"/>
<rect x="2568.5" y="1329.8" width="3" height="8" fill="#e31513" transform="rotate(25 2570 1333.8)"/>
<rect x="2595.2" y="1347.5" width="5" height="5" fill="#e31513" transform="rotate(25 2597.8 1350)"/>
<rect x="2649.5" y="1325.5" width="25" height="45" fill="#8d989f" transform="rotate(22 2662 1348)"/>
<ellipse cx="2646.5" cy="1377" rx="7" ry="7" fill="#8d989f"/>
<ellipse cx="2635.2" cy="1394.2" rx="7" ry="7" fill="#8d989f"/>
<ellipse cx="2627.2" cy="1412.5" rx="7" ry="7" fill="#8d989f"/>
<ellipse cx="2619" cy="1430" rx="7" ry="7" fill="#8d989f"/>
<rect x="2606" y="1352" width="6" height="8" fill="#8d989f" transform="rotate(25 2609 1356)"/>
<rect x="2587" y="1408.8" width="9" height="6" fill="#8d989f" transform="rotate(25 2591.5 1411.8)"/></g>
<g id="s5b_north"><polygon points="2643.8,421.2 2712.5,421.2 2712.5,427 2732,427 2747.5,383.8 2758,383.8 2735,453.8 2643.8,453.8" fill="#8d989f"/>
<path d="M2465 309.5H2501.2V333H2465ZM2473 316.2V325.5H2493V316.2Z" fill="#7f0f31" fill-rule="evenodd"/>
<polygon points="2524.5,297.5 2535,305 2535,322.5 2547.5,322.5 2555,333 2524.5,333" fill="#7f0f31"/>
<polygon points="2572.5,323.8 2580,317.5 2586.2,333 2572.5,333" fill="#7f0f31"/>
<polygon points="2598.8,317.5 2627,280 2627,333 2603.8,333" fill="#7f0f31"/>
<path d="M2645 283.8H2687.5V333.8H2645ZM2655 294.5V322H2678.8V294.5Z" fill="#7f0f31" fill-rule="evenodd"/>
<rect x="2655" y="280" width="23.8" height="5" fill="#7f0f31"/>
<rect x="2644.5" y="305" width="10.8" height="7.5" fill="#e7eaed"/>
<rect x="2678.5" y="305" width="9.5" height="7.5" fill="#e7eaed"/>
<path d="M2706.2 283.8H2748.8V333.8H2706.2ZM2715 294.5V323.8H2740V294.5Z" fill="#7f0f31" fill-rule="evenodd"/>
<rect x="2716.2" y="280" width="23.8" height="5" fill="#7f0f31"/>
<rect x="2705.8" y="305" width="9.5" height="7.5" fill="#e7eaed"/>
<rect x="2739.8" y="305" width="9.5" height="7.5" fill="#e7eaed"/>
<polygon points="2752.5,285 2788,283.8 2772.5,333.8 2752.5,333.8" fill="#7f0f31"/>
<rect x="2761.2" y="293.8" width="6.2" height="11.2" fill="#e7eaed"/>
<polygon points="2810,278 2825,286.2 2825,303 2840,303 2840,312.5 2810,312.5" fill="#7f0f31"/>
<rect x="2444.5" y="352.5" width="18" height="18.8" fill="#7f0f31"/>
<rect x="2450" y="375" width="6.2" height="23.8" fill="#7f0f31"/>
<rect x="2373.8" y="381.2" width="7.5" height="21.8" fill="#7f0f31"/>
<rect x="2421.2" y="381.2" width="8" height="21.8" fill="#7f0f31"/>
<rect x="2406.2" y="393.8" width="23" height="9.2" fill="#7f0f31"/>
<path d="M2465 351.2L2506.2 351.2L2507.5 380L2497.5 403L2465 403Z M2472.5 362.5V390H2497.5V362.5Z" fill="#7f0f31" fill-rule="evenodd"/>
<rect x="2463.8" y="372.5" width="9.2" height="7.5" fill="#e7eaed"/>
<path d="M2526.2 350H2560V403H2526.2ZM2536.2 363.8V388.8H2550V363.8Z" fill="#7f0f31" fill-rule="evenodd"/>
<rect x="2525.8" y="372.5" width="10.8" height="7.5" fill="#e7eaed"/>
<rect x="2549.8" y="372.5" width="10.8" height="7.5" fill="#e7eaed"/>
<path d="M2572 350L2595 350L2613.8 403L2572 403Z M2581.2 360V392.5H2593.8V360Z" fill="#7f0f31" fill-rule="evenodd"/>
<rect x="2581.2" y="350" width="6.2" height="11.2" fill="#e7eaed"/>
<rect x="2587.5" y="372.5" width="16.2" height="7.5" fill="#e7eaed"/>
<polygon points="2607.5,349.5 2627,349.5 2627,372 2616.2,372" fill="#7f0f31"/>
<path d="M2645 352.5H2687.5V403.8H2645ZM2655 362.5V393.8H2678.8V362.5Z" fill="#7f0f31" fill-rule="evenodd"/>
<rect x="2655" y="348.8" width="23.8" height="5" fill="#7f0f31"/>
<rect x="2655" y="402.5" width="23.8" height="5" fill="#7f0f31"/>
<rect x="2644.5" y="372.5" width="10.8" height="8.8" fill="#e7eaed"/>
<rect x="2678.5" y="372.5" width="9.5" height="8.8" fill="#e7eaed"/>
<rect x="2705" y="348.8" width="39.5" height="20" fill="#8d989f"/>
<rect x="2708.2" y="378.8" width="18" height="6.2" fill="#8d989f"/>
<rect x="2708.2" y="388" width="18" height="6.2" fill="#8d989f"/>
<rect x="2364.5" y="417" width="16" height="9.2" fill="#7f0f31"/>
<rect x="2398" y="417" width="15.8" height="9.2" fill="#7f0f31"/>
<rect x="2441.2" y="417" width="16.2" height="8" fill="#7f0f31"/>
<rect x="2447.5" y="423.8" width="10.5" height="2.5" fill="#e7eaed"/>
<polygon points="2472.5,417 2486.2,417 2475,436.2 2468,436.2 2475,423.8" fill="#7f0f31"/>
<polygon points="2485,452.5 2500,417.5 2513.8,417.5 2516.2,452.5" fill="#7f0f31"/>
<polygon points="2526.2,416.2 2536.2,416.2 2536.2,426.2 2550,426.2 2550,416.2 2560,416.2 2560,443.8 2526.2,443.8" fill="#7f0f31"/>
<polygon points="2572,416.2 2581.2,416.2 2581.2,426.2 2603.8,426.2 2610.8,431.2 2610.8,443.8 2572,443.8" fill="#7f0f31"/>
<polygon points="2617,425 2636.2,425 2636.2,435 2643.8,435 2643.8,452.5 2617,452.5" fill="#7f0f31"/>
<rect x="2356.2" y="450" width="9.2" height="8.8" fill="#7f0f31"/>
<rect x="2396.2" y="457.5" width="15.8" height="9.5" fill="#7f0f31"/>
<rect x="2377" y="473.8" width="9.2" height="9.2" fill="#7f0f31"/>
<rect x="2321.2" y="480.5" width="9.5" height="9.5" fill="#7f0f31"/>
<rect x="2358.8" y="490" width="9.2" height="8.8" fill="#7f0f31"/>
<rect x="2341.2" y="504.5" width="10" height="9.2" fill="#7f0f31"/>
<polygon points="2418.8,437.5 2435,437.5 2435,443.8 2427.5,443.8 2427.5,446.2 2418.8,446.2" fill="#7f0f31"/>
<rect x="2336.2" y="462.8" width="11" height="8" fill="#8d989f" transform="rotate(-15 2341.8 466.8)"/>
<polyline points="2417.5,493.8 2466.2,448.8" fill="none" stroke="#8d989f" stroke-width="6"/>
<polyline points="2376.2,508.8 2394.5,496.2" fill="none" stroke="#8d989f" stroke-width="5"/>
<polyline points="2370,517 2375.5,512.5" fill="none" stroke="#8d989f" stroke-width="4"/>
<polyline points="2402,500 2412,509.5" fill="none" stroke="#8d989f" stroke-width="4"/>
<polygon points="2745,357 2758,357 2762.5,348.8 2767.5,348.8 2781.2,358 2801.2,365 2815,372.5 2822.5,385 2830,432.5 2812.5,432.5 2807.5,385 2746.2,385" fill="#7f0f31"/>
<polygon points="2732,427 2747.5,383.8 2750.5,384.5 2735.5,427" fill="#7f0f31"/>
<polygon points="2835,320 2857,320 2858,330 2847.5,330 2849.2,341.2 2860,341.2 2861.2,350 2850.8,350 2852.5,362.5 2863.8,361.2 2864.5,369.5 2841.2,370.5" fill="#7f0f31"/>
<polygon points="2842.5,380.5 2865.5,378 2866.2,387 2857,388 2859.5,397.5 2855.5,415 2848,415" fill="#7f0f31"/>
<polygon points="2850,435 2876.2,438.8 2890,497.5 2858.8,503.8" fill="#7f0f31"/>
<polygon points="2801.2,466.2 2827.5,466.2 2827.5,483.8 2840,483.8 2840,492.5 2830,492.5 2830,512.5 2841.2,512.5 2842.5,522.5 2831.2,522.5 2832,538.8 2845,538.8 2846.2,546.2 2833.8,546.2 2835,561 2801.2,561" fill="#7f0f31"/>
<rect x="2751.2" y="232.5" width="12.5" height="20.8" fill="#7f0f31"/>
<rect x="2773.2" y="238.8" width="27.5" height="12.5" fill="#7f0f31"/>
<rect x="2805.5" y="218" width="12" height="20.8" fill="#7f0f31"/>
<rect x="2818.2" y="243" width="17.2" height="11.5" fill="#7f0f31"/>
<polygon points="2700.5,245 2708,245 2708,250 2723.8,250 2723.8,245 2731.8,245 2731.8,257.5 2700.5,257.5" fill="#646e75"/>
<rect x="2527.5" y="474.5" width="60.5" height="16" fill="#e31513"/>
<polygon points="2801,466 2827.5,466 2827.5,484 2840,484 2840,492.5 2830,492.5 2830,512.5 2842.5,512.5 2845,522.5 2831,522.5 2831,537.5 2845,537.5 2846,546 2801,546" fill="#7f0f31"/>
<polygon points="2801,554 2834,554 2834,560 2850,560 2850,567.5 2835,567.5 2835,634 2801,634" fill="#7f0f31"/>
<polygon points="2842.5,587.5 2849,587.5 2854,620 2847.5,620" fill="#7f0f31"/>
<polygon points="2867.5,559 2911,559 2912.5,572.5 2876,574 2874,580 2869,580" fill="#7f0f31"/>
<polygon points="2876,581 2914,580 2922.5,625 2884,626" fill="#7f0f31"/>
<polygon points="2877.5,634 2885,634 2886,640 2926,640 2935,659 2880,659" fill="#7f0f31"/>
<polygon points="2850,435 2877.5,437.5 2892.5,495 2861,502.5" fill="#7f0f31"/>
<rect x="2402.5" y="679" width="22.5" height="34" fill="#e31513"/>
<rect x="2431" y="679" width="22.5" height="34" fill="#e31513"/>
<rect x="2459" y="679" width="52" height="34" fill="#e31513"/></g>
<g id="s5c_bp"><polygon points="3250,317 3414,261.5 3488,253.6 3535.6,343.4 3630.7,312.8 3805,388.3 3823,540 3828,612 3750,848 3145,590 3160,497" fill="#ececec"/>
<polyline points="3250,317 3414,261.5 3488,253.6 3535.6,343.4 3630.7,312.8 3805,388.3" fill="none" stroke="#8a949a" stroke-width="1" stroke-dasharray="3 2"/>
<polyline points="3217.5,432.5 3347.5,420 3456.2,382.5 3615,326.2" fill="none" stroke="#a5afb5" stroke-width="4" stroke-linejoin="round" stroke-linecap="round"/>
<path d="M3411.2 268.8 C3418.8 287.7 3441.5 345.2 3456.2 382.5 C3471 419.8 3488.9 464.6 3500 492.5 C3511.1 520.4 3518.6 534.9 3523 550 C3527.4 565.1 3527.2 572.2 3526.7 583.3 C3526.2 594.4 3523.9 602.8 3520 616.7 C3516.1 630.6 3510.2 647.5 3503.3 666.7 C3496.4 685.9 3482.5 720.9 3478.3 731.7" fill="none" stroke="#a5afb5" stroke-width="4" stroke-linejoin="round" stroke-linecap="round"/>
<polyline points="3552.5,350 3592.5,452.5" fill="none" stroke="#a5afb5" stroke-width="4" stroke-linejoin="round" stroke-linecap="round"/>
<path d="M3615 326.2 C3621.7 343.5 3640.8 391.6 3655 430 C3669.2 468.4 3689.7 530 3700 556.7 C3710.3 583.4 3713.4 578.9 3716.7 590 C3720 601.1 3722.2 608.3 3720 623.3 C3717.8 638.3 3713.3 649.4 3703.3 680 C3693.3 710.6 3667.2 785.6 3660 806.7" fill="none" stroke="#a5afb5" stroke-width="4" stroke-linejoin="round" stroke-linecap="round"/>
<polyline points="3500,492.5 3592.5,452.5 3655,430 3740,397.5 3800,560" fill="none" stroke="#a5afb5" stroke-width="4" stroke-linejoin="round" stroke-linecap="round"/>
<polyline points="3693.8,418.8 3757.5,577.5 3800,560" fill="none" stroke="#a5afb5" stroke-width="4" stroke-linejoin="round" stroke-linecap="round"/>
<polyline points="3523.8,565 3616.2,531.2" fill="none" stroke="#a5afb5" stroke-width="4" stroke-linejoin="round" stroke-linecap="round"/>
<polyline points="3592.5,452.5 3637.5,587.5 3700,556.2" fill="none" stroke="#a5afb5" stroke-width="4" stroke-linejoin="round" stroke-linecap="round"/>
<path d="M3217.5 432.5 C3217.1 442.1 3215.8 471.2 3215 490 C3214.2 508.8 3215.8 526.5 3212.5 545 C3209.2 563.5 3198.8 590.7 3195 601 C3191.2 611.3 3190.8 606 3190 607" fill="none" stroke="#a5afb5" stroke-width="4" stroke-linejoin="round" stroke-linecap="round"/>
<path d="M3215 546.7 C3238.6 550.9 3305.3 562.5 3356.7 571.7 C3408.1 580.9 3463.3 591.4 3523.3 601.7 C3583.3 612 3666.7 625.2 3716.7 633.3 C3766.7 641.3 3805.5 647.2 3823.3 650" fill="none" stroke="#a5afb5" stroke-width="4" stroke-linejoin="round" stroke-linecap="round"/>
<path d="M3347.5 420 C3349.6 431.7 3357.1 467.9 3360 490 C3362.9 512.1 3365 538.7 3365 552.5 C3365 566.3 3363.1 561.2 3360 573 C3356.9 584.8 3352 607.7 3346.7 623.3 C3341.4 638.9 3331.4 659.5 3328.3 666.7" fill="none" stroke="#a5afb5" stroke-width="4" stroke-linejoin="round" stroke-linecap="round"/>
<polyline points="3503.3,668.3 3590,696.7" fill="none" stroke="#a5afb5" stroke-width="4" stroke-linejoin="round" stroke-linecap="round"/>
<polyline points="3620,620 3571.7,756.7" fill="none" stroke="#a5afb5" stroke-width="4" stroke-linejoin="round" stroke-linecap="round"/>
<polyline points="3710,671.7 3806.7,701.7 3750,848.3" fill="none" stroke="#a5afb5" stroke-width="4" stroke-linejoin="round" stroke-linecap="round"/>
<polyline points="3693.3,720 3781.7,751.7" fill="none" stroke="#a5afb5" stroke-width="4" stroke-linejoin="round" stroke-linecap="round"/>
<polyline points="3678.3,763.3 3766.7,795" fill="none" stroke="#a5afb5" stroke-width="4" stroke-linejoin="round" stroke-linecap="round"/>
<polyline points="3478.3,731.7 3660,806.7 3750,848.3" fill="none" stroke="#a5afb5" stroke-width="4" stroke-linejoin="round" stroke-linecap="round"/>
<rect x="3243.2" y="438.2" width="66" height="11" fill="none" stroke="#98a2a8" stroke-width="1.5" transform="rotate(-8 3276.2 443.8)"/>
<rect x="3245.8" y="463" width="66" height="19" fill="none" stroke="#98a2a8" stroke-width="1.5" transform="rotate(-8 3278.8 472.5)"/>
<rect x="3246" y="494.5" width="68" height="21" fill="none" stroke="#98a2a8" stroke-width="1.5" transform="rotate(-8 3280 505)"/>
<rect x="3322" y="432.2" width="21" height="43" fill="none" stroke="#98a2a8" stroke-width="1.5" transform="rotate(-12 3332.5 453.8)"/>
<rect x="3330.8" y="483.8" width="21" height="60" fill="none" stroke="#98a2a8" stroke-width="1.5" transform="rotate(-12 3341.2 513.8)"/>
<rect x="3355.8" y="427.2" width="21" height="48" fill="none" stroke="#98a2a8" stroke-width="1.5" transform="rotate(-12 3366.2 451.2)"/>
<rect x="3365.8" y="478.5" width="21" height="68" fill="none" stroke="#98a2a8" stroke-width="1.5" transform="rotate(-12 3376.2 512.5)"/>
<rect x="3387.2" y="414" width="58" height="11" fill="none" stroke="#98a2a8" stroke-width="1.5" transform="rotate(-15 3416.2 419.5)"/>
<rect x="3391.8" y="439.5" width="64" height="21" fill="none" stroke="#98a2a8" stroke-width="1.5" transform="rotate(-15 3423.8 450)"/>
<rect x="3396.8" y="469" width="69" height="22" fill="none" stroke="#98a2a8" stroke-width="1.5" transform="rotate(-15 3431.2 480)"/>
<rect x="3401.5" y="501.5" width="77" height="22" fill="none" stroke="#98a2a8" stroke-width="1.5" transform="rotate(-15 3440 512.5)"/>
<rect x="3192.5" y="447.5" width="10" height="30" fill="none" stroke="#98a2a8" stroke-width="1.5" transform="rotate(5 3197.5 462.5)"/>
<rect x="3171.8" y="493.2" width="34" height="16" fill="none" stroke="#98a2a8" stroke-width="1.5" transform="rotate(8 3188.8 501.2)"/>
<rect x="3165" y="544.5" width="14" height="36" fill="none" stroke="#98a2a8" stroke-width="1.5" transform="rotate(8 3172 562.5)"/>
<rect x="3299" y="528" width="18" height="10" fill="none" stroke="#98a2a8" stroke-width="1.5" transform="rotate(8 3308 533)"/>
<rect x="3253.8" y="319.5" width="30" height="22" fill="none" stroke="#98a2a8" stroke-width="1.5" transform="rotate(-12 3268.8 330.5)"/>
<rect x="3295.5" y="317.8" width="34" height="22" fill="none" stroke="#98a2a8" stroke-width="1.5" transform="rotate(-12 3312.5 328.8)"/>
<rect x="3241.5" y="360.5" width="22" height="24" fill="none" stroke="#98a2a8" stroke-width="1.5" transform="rotate(-12 3252.5 372.5)"/>
<rect x="3269.8" y="358" width="8" height="24" fill="none" stroke="#98a2a8" stroke-width="1.5" transform="rotate(-5 3273.8 370)"/>
<rect x="3286.2" y="356.8" width="20" height="24" fill="none" stroke="#98a2a8" stroke-width="1.5" transform="rotate(-8 3296.2 368.8)"/>
<rect x="3327.8" y="351" width="7" height="28" fill="none" stroke="#98a2a8" stroke-width="1.5" transform="rotate(-10 3331.2 365)"/>
<rect x="3232.2" y="398" width="28" height="24" fill="none" stroke="#98a2a8" stroke-width="1.5" transform="rotate(-12 3246.2 410)"/>
<rect x="3267.8" y="396.5" width="22" height="22" fill="none" stroke="#98a2a8" stroke-width="1.5" transform="rotate(-12 3278.8 407.5)"/>
<rect x="3300" y="393" width="20" height="24" fill="none" stroke="#98a2a8" stroke-width="1.5" transform="rotate(-8 3310 405)"/>
<rect x="3332.8" y="388.5" width="7" height="28" fill="none" stroke="#98a2a8" stroke-width="1.5" transform="rotate(-10 3336.2 402.5)"/>
<polygon points="3406.2,543.8 3491.2,530 3492.5,536.2 3443.8,556.2" fill="none" stroke="#98a2a8" stroke-width="1.5"/>
<polygon points="3215,605 3226.7,568.3 3268.3,580 3271.7,568.3 3341.7,590 3326.7,638.3 3256.7,616.7 3253.3,626.7" fill="none" stroke="#98a2a8" stroke-width="1.8"/>
<polygon points="3361.7,651.7 3383.3,583.3 3501.7,620 3478.3,698.3 3443.3,686.7 3445,681.7 3396.7,666.7 3395,671.7" fill="none" stroke="#98a2a8" stroke-width="1.8"/>
<rect x="3162.7" y="546.3" width="16" height="34" fill="none" stroke="#98a2a8" stroke-width="1.5" transform="rotate(5 3170.7 563.3)"/>
<g transform="translate(3510.8 390) rotate(-19.7)" fill="#7f0f31"><rect x="-44.5" y="-4.2" width="89" height="8.5"/><rect x="-44.5" y="-10.8" width="5" height="7.5"/><rect x="-27.7" y="-10.8" width="5" height="7.5"/><rect x="-10.9" y="-10.8" width="5" height="7.5"/><rect x="5.9" y="-10.8" width="5" height="7.5"/><rect x="22.7" y="-10.8" width="5" height="7.5"/><rect x="39.5" y="-10.8" width="5" height="7.5"/></g>
<g transform="translate(3525.5 415.5) rotate(-19.5)" fill="#7f0f31"><rect x="-46.5" y="-5" width="93" height="10"/><rect x="-42.5" y="-9" width="14" height="18"/><rect x="-7" y="-9" width="14" height="18"/><rect x="28.5" y="-9" width="14" height="18"/></g>
<g transform="translate(3538 450.5) rotate(-19.5)" fill="#7f0f31"><rect x="-46.5" y="-5" width="93" height="10"/><rect x="-42.5" y="-9" width="14" height="18"/><rect x="-7" y="-9" width="14" height="18"/><rect x="28.5" y="-9" width="14" height="18"/></g>
<g transform="translate(3553.8 492.5) rotate(-19.5)" fill="#7f0f31"><rect x="-46.5" y="-4.5" width="93" height="9"/><rect x="-46.5" y="-11" width="5" height="7.5"/><rect x="-28.9" y="-11" width="5" height="7.5"/><rect x="-11.3" y="-11" width="5" height="7.5"/><rect x="6.3" y="-11" width="5" height="7.5"/><rect x="23.9" y="-11" width="5" height="7.5"/><rect x="41.5" y="-11" width="5" height="7.5"/></g>
<g transform="translate(3568 527.5) rotate(-19.5)" fill="#7f0f31"><rect x="-45.5" y="-4.5" width="91" height="9"/><rect x="-45.5" y="3.5" width="5" height="7.5"/><rect x="-28.3" y="3.5" width="5" height="7.5"/><rect x="-11.1" y="3.5" width="5" height="7.5"/><rect x="6.1" y="3.5" width="5" height="7.5"/><rect x="23.3" y="3.5" width="5" height="7.5"/><rect x="40.5" y="3.5" width="5" height="7.5"/></g>
<g transform="translate(3602 392.5) rotate(-19.5)" fill="#7f0f31"><rect x="-11" y="-44" width="25" height="88"/><rect x="-14" y="-30" width="4" height="18"/><rect x="-14" y="2" width="4" height="18"/><rect x="-14" y="28" width="4" height="12"/></g>
<g transform="translate(3650 510) rotate(-18.5)" fill="#7f0f31"><rect x="-12" y="-55" width="27" height="110"/><rect x="-16" y="-35" width="5" height="25"/><rect x="-16" y="5" width="5" height="25"/><rect x="-16" y="40" width="5" height="12"/></g>
<polygon points="3650,383.8 3671.2,373.8 3676.2,383.8 3697.5,376.2 3701.2,385 3725,378.8 3727.5,387.5 3661.2,413.8" fill="#7f0f31"/>
<g transform="translate(3703 504) rotate(-22.5)" fill="#7f0f31"><rect x="-5" y="-75" width="10" height="150"/><rect x="4" y="-73" width="6" height="17"/><rect x="-9" y="-58" width="5" height="10"/><rect x="4" y="-48" width="6" height="17"/><rect x="-9" y="-33" width="5" height="10"/><rect x="4" y="-23" width="6" height="17"/><rect x="-9" y="-8" width="5" height="10"/><rect x="4" y="2" width="6" height="17"/><rect x="-9" y="17" width="5" height="10"/><rect x="4" y="27" width="6" height="17"/><rect x="-9" y="42" width="5" height="10"/><rect x="4" y="52" width="6" height="17"/><rect x="-9" y="67" width="5" height="10"/></g>
<g transform="translate(3748 484) rotate(-19.5)" fill="#7f0f31"><rect x="-5" y="-75" width="10" height="150"/><rect x="4" y="-73" width="6" height="17"/><rect x="-9" y="-58" width="5" height="10"/><rect x="4" y="-48" width="6" height="17"/><rect x="-9" y="-33" width="5" height="10"/><rect x="4" y="-23" width="6" height="17"/><rect x="-9" y="-8" width="5" height="10"/><rect x="4" y="2" width="6" height="17"/><rect x="-9" y="17" width="5" height="10"/><rect x="4" y="27" width="6" height="17"/><rect x="-9" y="42" width="5" height="10"/><rect x="4" y="52" width="6" height="17"/><rect x="-9" y="67" width="5" height="10"/></g>
<g transform="translate(3497 320) rotate(-20)" fill="#7f0f31"><rect x="-11.5" y="-8.5" width="23" height="17"/></g>
<g transform="translate(3500 350.5) rotate(-20)" fill="#7f0f31"><rect x="-19" y="-13" width="38" height="26"/></g>
<g transform="translate(3463 361.2) rotate(-20)" fill="#7f0f31"><rect x="-12" y="-14" width="8" height="16"/><rect x="4" y="-14" width="8" height="28"/><rect x="-12" y="6" width="24" height="8"/><rect x="-12" y="0" width="8" height="8"/></g>
<g transform="translate(3347 324.5) rotate(-15)" fill="#7f0f31"><rect x="-7.5" y="-11" width="15" height="5.5"/><rect x="-7.5" y="-11" width="5.5" height="22"/><rect x="-7.5" y="5.5" width="15" height="5.5"/></g>
<g transform="translate(3369.5 318.8) rotate(-15)" fill="#7f0f31"><rect x="-7.5" y="-11" width="15" height="5.5"/><rect x="2" y="-11" width="5.5" height="22"/><rect x="-7.5" y="5.5" width="15" height="5.5"/></g>
<g transform="translate(3355.5 360.8) rotate(-15)" fill="#7f0f31"><rect x="-7.5" y="-11" width="15" height="5.5"/><rect x="-7.5" y="-11" width="5.5" height="22"/><rect x="-7.5" y="5.5" width="15" height="5.5"/></g>
<g transform="translate(3380.5 353.8) rotate(-15)" fill="#7f0f31"><rect x="-7.5" y="-11" width="15" height="5.5"/><rect x="2" y="-11" width="5.5" height="22"/><rect x="-7.5" y="5.5" width="15" height="5.5"/></g>
<g transform="translate(3363.2 397.5) rotate(-15)" fill="#7f0f31"><rect x="-7.5" y="-11" width="15" height="5.5"/><rect x="-7.5" y="-11" width="5.5" height="22"/><rect x="-7.5" y="5.5" width="15" height="5.5"/></g>
<g transform="translate(3393 388.8) rotate(-15)" fill="#7f0f31"><rect x="-7.5" y="-11" width="15" height="5.5"/><rect x="2" y="-11" width="5.5" height="22"/><rect x="-7.5" y="5.5" width="15" height="5.5"/></g>
<rect x="3388.8" y="288.2" width="24" height="22" fill="#e31513" transform="rotate(-20 3400.8 299.2)"/>
<rect x="3428" y="278" width="64" height="10" fill="#e31513" transform="rotate(-19.5 3460 283)"/>
<rect x="3446.8" y="306.5" width="14" height="18" fill="#e31513" transform="rotate(-20 3453.8 315.5)"/>
<g transform="translate(3408.8 322.5) rotate(-20)" fill="#e31513"><rect x="-11" y="-6" width="22" height="4"/><rect x="7" y="-6" width="4" height="14"/></g>
<g transform="translate(3417.5 342.5) rotate(-20)" fill="#e31513"><rect x="-11" y="-6" width="22" height="4"/><rect x="7" y="-6" width="4" height="14"/></g>
<g transform="translate(3425 362.5) rotate(-20)" fill="#e31513"><rect x="-11" y="-6" width="22" height="4"/><rect x="7" y="-6" width="4" height="14"/></g>
<g transform="translate(3432.5 382) rotate(-20)" fill="#e31513"><rect x="-11" y="-6" width="22" height="4"/><rect x="7" y="-6" width="4" height="14"/></g>
<g transform="translate(3562.3 649) rotate(18)" fill="#7f0f31"><rect x="-28" y="-25" width="56" height="17"/><rect x="-15" y="-9" width="30" height="18"/><rect x="-28" y="8" width="56" height="17"/></g>
<g transform="translate(3539 715.7) rotate(18)" fill="#7f0f31"><rect x="-28" y="-25" width="56" height="17"/><rect x="-15" y="-9" width="30" height="18"/><rect x="-28" y="8" width="56" height="17"/></g>
<g transform="translate(3643.3 705) rotate(14.4)" fill="#7f0f31"><rect x="-24" y="-70" width="53.5" height="140"/><rect x="-29.5" y="-62" width="6.5" height="20"/><rect x="-29.5" y="-25" width="6.5" height="20"/><rect x="-29.5" y="15" width="6.5" height="20"/><rect x="-29.5" y="50" width="6.5" height="18"/></g>
<g transform="translate(3763.3 664) rotate(19)" fill="#7f0f31"><rect x="-36" y="-14" width="72" height="12"/><rect x="-36" y="-14" width="9" height="24"/><rect x="-8" y="-3" width="12" height="15"/><rect x="22" y="-3" width="12" height="17"/></g>
<g transform="translate(3746.7 709.3) rotate(19)" fill="#7f0f31"><rect x="-36" y="-14" width="72" height="12"/><rect x="-36" y="-14" width="9" height="24"/><rect x="-8" y="-3" width="12" height="15"/><rect x="22" y="-3" width="12" height="17"/></g>
<g transform="translate(3730.7 753.3) rotate(19)" fill="#7f0f31"><rect x="-36" y="-14" width="72" height="12"/><rect x="-36" y="-14" width="9" height="24"/><rect x="-8" y="-3" width="12" height="15"/><rect x="22" y="-3" width="12" height="17"/></g>
<g transform="translate(3714 798.3) rotate(19)" fill="#7f0f31"><rect x="-36" y="-14" width="72" height="12"/><rect x="-36" y="-14" width="9" height="24"/><rect x="-8" y="-3" width="12" height="15"/><rect x="22" y="-3" width="12" height="17"/></g>
<polygon points="3730,596.7 3793.3,570 3808.3,601.7 3786.7,611.7 3781.7,600 3763.3,608.3 3758.3,598.3 3735,606.7" fill="#7f0f31"/></g>
<g id="s5d_misc"><polygon points="2126,671.7 2166.7,664 2174,703.3 2132.7,710.7" fill="#7f0f31"/>
<polygon points="2187.3,643.3 2232.7,634 2238.3,661.7 2223.3,666 2220.7,651.7 2190,658.3" fill="#7f0f31"/>
<polygon points="2240.7,675 2266.7,668.3 2273.3,700 2246.7,706.7" fill="#7f0f31"/>
<rect x="2290" y="666.7" width="25" height="27.7" fill="#7f0f31"/>
<rect x="2260" y="606.7" width="32.3" height="36.7" fill="#7f0f31"/>
<rect x="2292.3" y="606.7" width="33.3" height="36.7" fill="#8d989f"/>
<rect x="2344.3" y="596" width="11.7" height="17.3" fill="#7f0f31"/>
<rect x="2376" y="596" width="11.7" height="17.3" fill="#7f0f31"/>
<rect x="2345" y="626.7" width="26" height="17.3" fill="#7f0f31"/>
<rect x="2306" y="577.3" width="20" height="6" fill="#7f0f31"/>
<polygon points="2343.3,556.7 2351.7,556.7 2351.7,575 2356.7,575 2356.7,556.7 2364.3,556.7 2364.3,583.3 2343.3,583.3" fill="#7f0f31"/>
<polygon points="2375,556.7 2382.7,556.7 2382.7,576 2396.7,576 2396.7,583.3 2375,583.3" fill="#7f0f31"/>
<rect x="2282.2" y="570.5" width="21" height="7" fill="#e31513" transform="rotate(12 2292.7 574)"/>
<rect x="2228.5" y="583.8" width="13" height="4.5" fill="#e31513" transform="rotate(12 2235 586)"/>
<rect x="2323.3" y="686" width="6.7" height="10.7" fill="#e31513"/>
<rect x="2207.2" y="590.3" width="19" height="34" fill="#8d989f" transform="rotate(8 2216.7 607.3)"/>
<rect x="2168.3" y="599.3" width="9" height="12.3" fill="#8d989f"/>
<rect x="2121" y="634" width="53.3" height="9.3" fill="#8d989f"/>
<rect x="2106.7" y="683.3" width="6" height="31.7" fill="#8d989f"/>
<rect x="2116" y="719.3" width="6" height="14" fill="#8d989f"/>
<rect x="2130" y="730.7" width="5.3" height="4.3" fill="#8d989f"/>
<rect x="2310.7" y="1172.7" width="27.3" height="46.3" fill="#8d989f"/>
<rect x="2349.7" y="1171" width="47" height="28" fill="#8d989f"/>
<rect x="2250.3" y="1246.3" width="36" height="14" fill="#8d989f" transform="rotate(-22 2268.3 1253.3)"/>
<rect x="2305.2" y="1235.5" width="9" height="7" fill="#8d989f" transform="rotate(-22 2309.7 1239)"/>
<rect x="2307.7" y="1249.8" width="34" height="9" fill="#8d989f" transform="rotate(-22 2324.7 1254.3)"/>
<rect x="2231.7" y="1273" width="78" height="24" fill="#8d989f" transform="rotate(-22 2270.7 1285)"/>
<rect x="2273.2" y="1304.3" width="45" height="10" fill="#8d989f" transform="rotate(-22 2295.7 1309.3)"/>
<rect x="2234" y="1282.3" width="30" height="22" fill="#8d989f" transform="rotate(-22 2249 1293.3)"/>
<rect x="2325.2" y="1267.3" width="9" height="6" fill="#8d989f" transform="rotate(-22 2329.7 1270.3)"/>
<rect x="2335.7" y="1278.3" width="6.7" height="6" fill="#8d989f"/>
<rect x="2349.7" y="1278.3" width="6.7" height="6" fill="#8d989f"/>
<rect x="2359.3" y="1288.5" width="6" height="13" fill="#8d989f" transform="rotate(-30 2362.3 1295)"/>
<rect x="2362.7" y="1303.3" width="14" height="8" fill="#8d989f" transform="rotate(-30 2369.7 1307.3)"/>
<rect x="2367.3" y="1226.7" width="7.7" height="20" fill="#8d989f"/>
<polygon points="2360.7,1255 2375.7,1246.7 2404,1293.3 2392.3,1300" fill="#8d989f"/>
<rect x="2422.3" y="1304" width="51.7" height="18.7" fill="#8d989f"/>
<rect x="2474" y="1306.7" width="23.3" height="6.7" fill="#8d989f"/>
<rect x="2309" y="1321.7" width="10" height="6.7" fill="#8d989f"/>
<rect x="2473.7" y="1277" width="32" height="18" fill="#8d989f" transform="rotate(-27 2489.7 1286)"/>
<rect x="2510.7" y="1250" width="62" height="32" fill="#8d989f" transform="rotate(-27 2541.7 1266)"/>
<rect x="2575.3" y="1232.2" width="14" height="9" fill="#8d989f" transform="rotate(-27 2582.3 1236.7)"/>
<rect x="2580.3" y="1247.8" width="24" height="11" fill="#8d989f" transform="rotate(-27 2592.3 1253.3)"/>
<rect x="2606.8" y="1241.3" width="9" height="6" fill="#8d989f" transform="rotate(-27 2611.3 1244.3)"/>
<rect x="2548.8" y="1286" width="27" height="8" fill="#8d989f" transform="rotate(-27 2562.3 1290)"/>
<rect x="2577.7" y="1279.3" width="14" height="8" fill="#8d989f" transform="rotate(-27 2584.7 1283.3)"/>
<rect x="2640.7" y="1238.3" width="30" height="8" fill="#8d989f" transform="rotate(-27 2655.7 1242.3)"/>
<rect x="2692.8" y="1215" width="17" height="8" fill="#8d989f" transform="rotate(-27 2701.3 1219)"/>
<rect x="2692.5" y="1233.8" width="11" height="7" fill="#8d989f" transform="rotate(-27 2698 1237.3)"/>
<rect x="2737.3" y="1199.2" width="8" height="15" fill="#8d989f" transform="rotate(-27 2741.3 1206.7)"/>
<rect x="2752.3" y="1196.5" width="8" height="15" fill="#8d989f" transform="rotate(-27 2756.3 1204)"/>
<rect x="2766.2" y="1196.2" width="27" height="11" fill="#8d989f" transform="rotate(-27 2779.7 1201.7)"/>
<rect x="2776.7" y="1179.2" width="8" height="5" fill="#8d989f" transform="rotate(-27 2780.7 1181.7)"/>
<rect x="2731.7" y="1217.2" width="6" height="9" fill="#8d989f" transform="rotate(-27 2734.7 1221.7)"/>
<rect x="2769.8" y="1275.5" width="15" height="9" fill="#8d989f" transform="rotate(-27 2777.3 1280)"/>
<rect x="2806.3" y="1195.8" width="12" height="7" fill="#8d989f" transform="rotate(-27 2812.3 1199.3)"/>
<path d="M1051 1378h6v-4h38.5v36H1051v-13h9v-6h-9z" fill="#e31513"/>
<rect x="1051.5" y="1510" width="44.5" height="66.5" fill="#e31513"/>
<rect x="999" y="1559" width="11" height="16" fill="#e31513"/>
<path d="M989.6 1434h11v-3.2h21.7v9h-11v3.2H989.6z" fill="#e31513"/>
<rect x="1006" y="1595" width="84" height="16" fill="#7f0f31"/>
<rect x="1092.5" y="1595" width="5.5" height="16" fill="#e31513"/>
<rect x="1006" y="1620" width="9" height="8" fill="#e31513"/>
<rect x="1061" y="1623.5" width="27" height="16.5" fill="#7f0f31"/>
<rect x="1094" y="1624" width="5" height="15" fill="#e31513"/>
<rect x="1005" y="1643.5" width="25" height="45" fill="#e31513"/>
<path d="M1062 1650H1100V1688.5H1062ZM1070 1657.5V1671H1082.5V1657.5Z" fill="#e31513" fill-rule="evenodd"/>
<rect x="1053" y="1174" width="43.5" height="47.5" fill="none" stroke="#7f0f31" stroke-width="1.7" stroke-dasharray="5.5 4.5"/>
<rect x="1053" y="1237.5" width="43.5" height="46.5" fill="none" stroke="#7f0f31" stroke-width="1.7" stroke-dasharray="5.5 4.5"/>
<rect x="1051.5" y="1297" width="42.5" height="68" fill="none" stroke="#7f0f31" stroke-width="1.7" stroke-dasharray="5.5 4.5"/>
<rect x="1051.5" y="1438" width="43" height="66" fill="none" stroke="#7f0f31" stroke-width="1.7" stroke-dasharray="5.5 4.5"/>
<rect x="1411" y="1281" width="109.5" height="17.5" fill="none" stroke="#7f0f31" stroke-width="1.7" stroke-dasharray="5.5 4.5"/>
<rect x="1406.5" y="1621" width="110" height="18" fill="none" stroke="#7f0f31" stroke-width="1.7" stroke-dasharray="5.5 4.5"/>
<rect x="1620" y="1281" width="109.5" height="18" fill="none" stroke="#7f0f31" stroke-width="1.7" stroke-dasharray="5.5 4.5"/>
<rect x="1616" y="1622" width="109.5" height="18" fill="none" stroke="#7f0f31" stroke-width="1.7" stroke-dasharray="5.5 4.5"/>
<rect x="1455" y="1298.5" width="18" height="323" fill="#7f0f31"/>
<rect x="1664" y="1298.5" width="18" height="324" fill="#7f0f31"/>
<rect x="1615" y="1437" width="17" height="10" fill="#e31513"/>
<polygon points="1634.5,1438 1643,1439 1643,1446 1638,1446" fill="#e31513"/>
<rect x="930" y="1359.2" width="14.1" height="22.7" fill="#7f0f31"/>
<rect x="949.2" y="1358.7" width="23.2" height="23.2" fill="#7f0f31"/>
<rect x="960" y="1358.2" width="2.6" height="2.5" fill="#fff"/>
<rect x="960" y="1379.9" width="2.6" height="2.5" fill="#fff"/>
<rect x="949.2" y="1389.5" width="23.2" height="23.2" fill="#7f0f31"/>
<rect x="960" y="1389" width="2.6" height="2.5" fill="#fff"/>
<rect x="960" y="1410.7" width="2.6" height="2.5" fill="#fff"/>
<rect x="949.2" y="1419.5" width="23.2" height="23.2" fill="#7f0f31"/>
<rect x="960" y="1419" width="2.6" height="2.5" fill="#fff"/>
<rect x="960" y="1440.7" width="2.6" height="2.5" fill="#fff"/>
<rect x="902.5" y="1390" width="22.5" height="9" fill="#7f0f31"/>
<rect x="902.5" y="1390" width="7.5" height="22.5" fill="#7f0f31"/>
<polyline points="906,1422.5 968.5,1499" fill="none" stroke="#7f0f31" stroke-width="7.5" stroke-dasharray="15 3"/>
<rect x="965" y="1450" width="7.5" height="50" fill="#7f0f31"/>
<rect x="653.5" y="1570" width="75" height="18.5" fill="#646e75"/>
<rect x="562.5" y="1610" width="69" height="15" fill="#646e75"/>
<rect x="688" y="1603" width="67.5" height="24.5" fill="#646e75"/>
<rect x="590.5" y="1638" width="83" height="23.5" fill="#646e75"/>
<rect x="715.5" y="1639" width="63" height="24" fill="#646e75"/>
<rect x="787.5" y="1643.5" width="69" height="19.5" fill="#646e75"/>
<rect x="607" y="1673.5" width="95.5" height="7" fill="#646e75"/>
<rect x="753.5" y="1676" width="31" height="7" fill="#646e75"/>
<rect x="787.5" y="1676" width="69" height="7" fill="#646e75"/></g>
<g id="s6_labels"><polyline points="140,2016.5 118,2010 100,1997 25,1907 25,1790 30,1772 45,1760 67,1755 357,1755 367,1745 367,1700 985,1700 985,1567.5 1025,1560 1025,1296 985,1295 985,1165 979,1140 972.5,1115 972.5,1085 982,1068 995,1055 1025,995 1098.5,995 1098.5,955 1101,951 1098.5,947 1098.5,901.5 1330,901 1358,863 1415,894 2108,755 2103,660 2055,655 2060,606.7 2138.3,617.3 2181.7,625 2181.7,632.7 2195,634 2196,641.7 2236.7,631.7 2260,631.7 2260.7,666.7 2318.3,666.7 2318.3,696 2336,696 2336.7,666.7 2361.7,664 2380,650 2430,560 2485,453.5 2645,453" fill="none" stroke="#dc241f" stroke-width="1.5" stroke-linejoin="round"/>
<polyline points="2768.8,349.5 2790,352.5 2815,365 2825,380 2835,425 2845,500 2853.5,560 2876,710 2896,785 2926,815 2976,840 3026,880 3051,920 3086,1020 3086,1029 3076,1030 3033.5,1052.5 2996,1070 2975.5,1100 2958,1125 2908,1145 2865.5,1190 2730.5,1235 2730.5,1242.5 2685.5,1252.5 2685.5,1262.5 2640.5,1282.5 2645.5,1302.5 2630.5,1305 2615.5,1292.5 2548,1315 2538,1332.5 2500.5,1345" fill="none" stroke="#dc241f" stroke-width="1.5" stroke-linejoin="round"/>
<polyline points="1947.5,1345 1913.8,1345 1913.8,1330 1925,1322.5 2110,1322.5 2110.7,1266.7 2177.3,1266 2182.5,1280 2210,1291.2 2214,1303 2227,1303 2227.5,1317.5 2242.5,1323.8 2252.5,1321.2 2357.5,1321.2 2365,1326.2 2391.2,1310 2385,1295" fill="none" stroke="#dc241f" stroke-width="1.5" stroke-linejoin="round"/>
<polyline points="2422.5,1316 2422.5,1336" fill="none" stroke="#dc241f" stroke-width="1.5"/>
<polyline points="1900,1532.5 1900,1605 2111.5,1605 2111.5,1625 2188.3,1625 2193.3,1630 2213.3,1630 2218.3,1623.3 2218.3,1581.5 2356.7,1581.5 2356.7,1625 2430.2,1625 2430.2,1593.5 2468.2,1593.5 2468.2,1620.5 2476.7,1628.3 2576.8,1628.3 2576.8,1765 2590,1770 2613,1772.5 2638,1790 2647.5,1810 2647.5,1971.8 2643,1990 2629,2005 2602.6,2016.5 140,2016.5" fill="none" stroke="#dc241f" stroke-width="1.5" stroke-linejoin="round"/>
<path d="M3414 -3L3250 312L3160 497L3145 590L3750 848.3L3804 880Q3900 935 4083 956" fill="none" stroke="#17191b" stroke-width="3.2" stroke-dasharray="13 8"/>
<path d="M968 1212 C973.3 1216.7 978 1218.7 1000 1240 C1022 1261.3 1066.7 1313.3 1100 1340 C1133.3 1366.7 1150 1382.5 1200 1400 C1250 1417.5 1333.3 1435.3 1400 1445 C1466.7 1454.7 1520.7 1455.2 1600 1458 C1679.3 1460.8 1792.7 1460.7 1876 1462 C1959.3 1463.3 2039.3 1465.3 2100 1466 C2160.7 1466.7 2216.7 1466 2240 1466" fill="none" stroke="#8a949a" stroke-width="0.9" stroke-dasharray="3 2"/>
<path d="M968 1216 C973.3 1220.7 978 1222.7 1000 1244 C1022 1265.3 1066.7 1317.3 1100 1344 C1133.3 1370.7 1150 1386.5 1200 1404 C1250 1421.5 1333.3 1439.3 1400 1449 C1466.7 1458.7 1520.7 1459.2 1600 1462 C1679.3 1464.8 1792.7 1464.7 1876 1466 C1959.3 1467.3 2039.3 1469.3 2100 1470 C2160.7 1470.7 2216.7 1470 2240 1470" fill="none" stroke="#8a949a" stroke-width="0.9" stroke-dasharray="3 2"/>
<polyline points="2430,560 2356.7,701.7 2410,733 2642.5,733 2642.5,455" fill="none" stroke="#8a949a" stroke-width="1" stroke-dasharray="3 2"/>
<rect x="3182.7" y="643.2" width="48" height="55" fill="none" stroke="#8a949a" stroke-width="0.9" stroke-dasharray="3 2" transform="rotate(22 3206.7 670.7)"/>
<rect x="3243.3" y="666.5" width="48" height="55" fill="none" stroke="#8a949a" stroke-width="0.9" stroke-dasharray="3 2" transform="rotate(22 3267.3 694)"/>
<rect x="3328.3" y="702.5" width="50" height="55" fill="none" stroke="#8a949a" stroke-width="0.9" stroke-dasharray="3 2" transform="rotate(22 3353.3 730)"/>
<rect x="3386.7" y="724.2" width="50" height="57" fill="none" stroke="#8a949a" stroke-width="0.9" stroke-dasharray="3 2" transform="rotate(22 3411.7 752.7)"/>
<rect x="3165.7" y="727.7" width="42" height="38" fill="none" stroke="#8a949a" stroke-width="0.9" stroke-dasharray="3 2" transform="rotate(22 3186.7 746.7)"/>
<rect x="3223" y="750.3" width="42" height="38" fill="none" stroke="#8a949a" stroke-width="0.9" stroke-dasharray="3 2" transform="rotate(22 3244 769.3)"/>
<rect x="3280.7" y="766" width="42" height="38" fill="none" stroke="#8a949a" stroke-width="0.9" stroke-dasharray="3 2" transform="rotate(22 3301.7 785)"/>
<rect x="3473.3" y="770.8" width="50" height="55" fill="none" stroke="#8a949a" stroke-width="0.9" stroke-dasharray="3 2" transform="rotate(22 3498.3 798.3)"/>
<rect x="3528.7" y="791.8" width="48" height="55" fill="none" stroke="#8a949a" stroke-width="0.9" stroke-dasharray="3 2" transform="rotate(22 3552.7 819.3)"/>
<rect x="3582.7" y="812.5" width="48" height="55" fill="none" stroke="#8a949a" stroke-width="0.9" stroke-dasharray="3 2" transform="rotate(22 3606.7 840)"/>
<rect x="3649.3" y="835" width="38" height="40" fill="none" stroke="#8a949a" stroke-width="0.9" stroke-dasharray="3 2" transform="rotate(22 3668.3 855)"/>
<polyline points="3146.7,590 3151.7,696.7 3156.7,773.3 3253.3,815.3 3406.7,815.3 3530,875 3521.7,891.7 3098.3,891.7 3080,853.3" fill="none" stroke="#8a949a" stroke-width="0.9" stroke-dasharray="3 2"/>
<polyline points="3521.7,891.7 3796.7,889.3 3938.7,633.3" fill="none" stroke="#8a949a" stroke-width="0.9" stroke-dasharray="3 2"/>
<polyline points="3080,696 3133.3,696 3213.3,716.7 3600,890" fill="none" stroke="#8a949a" stroke-width="0.9" stroke-dasharray="3 2"/>
<polyline points="3080,704 3133.3,704 3213.3,725 3573.3,890" fill="none" stroke="#8a949a" stroke-width="0.9" stroke-dasharray="3 2"/>
<polyline points="3080,711.7 3151.7,713.3" fill="none" stroke="#8a949a" stroke-width="0.9" stroke-dasharray="3 2"/>
<polyline points="3193.3,613.3 3165,701.7 3620,885 3650,810" fill="none" stroke="#8a949a" stroke-width="0.9" stroke-dasharray="3 2"/>
<polyline points="3323.3,668.3 3308.3,743.3" fill="none" stroke="#8a949a" stroke-width="0.9" stroke-dasharray="3 2"/>
<polyline points="3475,733.3 3458.3,815" fill="none" stroke="#8a949a" stroke-width="0.9" stroke-dasharray="3 2"/>
<polyline points="2803,1342.5 2900.5,1241 2980.5,1289 2983,1307.5 3020.5,1310 3045.5,1345 3043,1360" fill="none" stroke="#8a949a" stroke-width="0.9" stroke-dasharray="3 2"/>
<polyline points="3864,1120 3790,1000 3730,640 3828,612 4083,640" fill="none" stroke="#8a949a" stroke-width="0.9" stroke-dasharray="3 2"/>
<polyline points="3805,388 3990,420 4083,445" fill="none" stroke="#8a949a" stroke-width="0.9" stroke-dasharray="3 2"/>
<polygon points="303.8,145.3 182.3,343.4 295.9,375.1" fill="#e7eaed"/>
<text x="251" y="334" font-size="40" fill="#a5afb5" text-anchor="middle" transform="rotate(15 251 334)" font-weight="bold" font-style="italic">N</text>
<path d="M0-10C1-10 1.5-8 1.5-6V-2L10 3V5L1.5 2.5 1.2 7 4 9V10.3L0 9.3-4 10.3V9L-1.2 7-1.5 2.5-10 5V3L-1.5-2V-6C-1.5-8-1-10 0-10Z" fill="#fff" transform="translate(1400 1031) rotate(90) scale(1.9)"/>
<path d="M0-10C1-10 1.5-8 1.5-6V-2L10 3V5L1.5 2.5 1.2 7 4 9V10.3L0 9.3-4 10.3V9L-1.2 7-1.5 2.5-10 5V3L-1.5-2V-6C-1.5-8-1-10 0-10Z" fill="#fff" transform="translate(736.5 1892.5) rotate(90) scale(1.9)"/>
<path d="M0-10C1-10 1.5-8 1.5-6V-2L10 3V5L1.5 2.5 1.2 7 4 9V10.3L0 9.3-4 10.3V9L-1.2 7-1.5 2.5-10 5V3L-1.5-2V-6C-1.5-8-1-10 0-10Z" fill="#fff" transform="translate(1887.5 1275) rotate(0) scale(1.1)"/>
<path d="M0-10C1-10 1.5-8 1.5-6V-2L10 3V5L1.5 2.5 1.2 7 4 9V10.3L0 9.3-4 10.3V9L-1.2 7-1.5 2.5-10 5V3L-1.5-2V-6C-1.5-8-1-10 0-10Z" fill="#fff" transform="translate(1952.5 1275) rotate(0) scale(1.1)"/>
<path d="M0-10C1-10 1.5-8 1.5-6V-2L10 3V5L1.5 2.5 1.2 7 4 9V10.3L0 9.3-4 10.3V9L-1.2 7-1.5 2.5-10 5V3L-1.5-2V-6C-1.5-8-1-10 0-10Z" fill="#fff" transform="translate(1984 1275) rotate(0) scale(1.1)"/>
<path d="M0-10C1-10 1.5-8 1.5-6V-2L10 3V5L1.5 2.5 1.2 7 4 9V10.3L0 9.3-4 10.3V9L-1.2 7-1.5 2.5-10 5V3L-1.5-2V-6C-1.5-8-1-10 0-10Z" fill="#fff" transform="translate(2020 1275) rotate(0) scale(1.1)"/>
<path d="M0-10C1-10 1.5-8 1.5-6V-2L10 3V5L1.5 2.5 1.2 7 4 9V10.3L0 9.3-4 10.3V9L-1.2 7-1.5 2.5-10 5V3L-1.5-2V-6C-1.5-8-1-10 0-10Z" fill="#fff" transform="translate(2056 1275) rotate(0) scale(1.1)"/>
<path d="M0-10C1-10 1.5-8 1.5-6V-2L10 3V5L1.5 2.5 1.2 7 4 9V10.3L0 9.3-4 10.3V9L-1.2 7-1.5 2.5-10 5V3L-1.5-2V-6C-1.5-8-1-10 0-10Z" fill="#fff" transform="translate(1845 1321) rotate(90) scale(1.1)"/>
<path d="M0-10C1-10 1.5-8 1.5-6V-2L10 3V5L1.5 2.5 1.2 7 4 9V10.3L0 9.3-4 10.3V9L-1.2 7-1.5 2.5-10 5V3L-1.5-2V-6C-1.5-8-1-10 0-10Z" fill="#fff" transform="translate(1845 1361) rotate(90) scale(1.1)"/>
<path d="M0-10C1-10 1.5-8 1.5-6V-2L10 3V5L1.5 2.5 1.2 7 4 9V10.3L0 9.3-4 10.3V9L-1.2 7-1.5 2.5-10 5V3L-1.5-2V-6C-1.5-8-1-10 0-10Z" fill="#fff" transform="translate(1800 1385) rotate(0) scale(1.8)"/>
<path d="M0-10C1-10 1.5-8 1.5-6V-2L10 3V5L1.5 2.5 1.2 7 4 9V10.3L0 9.3-4 10.3V9L-1.2 7-1.5 2.5-10 5V3L-1.5-2V-6C-1.5-8-1-10 0-10Z" fill="#fff" transform="translate(1842 1400) rotate(90) scale(1.9)"/>
<path d="M0-10C1-10 1.5-8 1.5-6V-2L10 3V5L1.5 2.5 1.2 7 4 9V10.3L0 9.3-4 10.3V9L-1.2 7-1.5 2.5-10 5V3L-1.5-2V-6C-1.5-8-1-10 0-10Z" fill="#fff" transform="translate(1845 1440) rotate(90) scale(1.1)"/>
<path d="M0-10C1-10 1.5-8 1.5-6V-2L10 3V5L1.5 2.5 1.2 7 4 9V10.3L0 9.3-4 10.3V9L-1.2 7-1.5 2.5-10 5V3L-1.5-2V-6C-1.5-8-1-10 0-10Z" fill="#fff" transform="translate(1840 1500) rotate(90) scale(1.9)"/>
<path d="M0-10C1-10 1.5-8 1.5-6V-2L10 3V5L1.5 2.5 1.2 7 4 9V10.3L0 9.3-4 10.3V9L-1.2 7-1.5 2.5-10 5V3L-1.5-2V-6C-1.5-8-1-10 0-10Z" fill="#fff" transform="translate(1840 1540) rotate(90) scale(1.9)"/>
<path d="M0-10C1-10 1.5-8 1.5-6V-2L10 3V5L1.5 2.5 1.2 7 4 9V10.3L0 9.3-4 10.3V9L-1.2 7-1.5 2.5-10 5V3L-1.5-2V-6C-1.5-8-1-10 0-10Z" fill="#fff" transform="translate(1835 1600) rotate(90) scale(1.9)"/>
<path d="M0-10C1-10 1.5-8 1.5-6V-2L10 3V5L1.5 2.5 1.2 7 4 9V10.3L0 9.3-4 10.3V9L-1.2 7-1.5 2.5-10 5V3L-1.5-2V-6C-1.5-8-1-10 0-10Z" fill="#fff" transform="translate(1912.5 1655) rotate(45) scale(1.2)"/>
<path d="M0-10C1-10 1.5-8 1.5-6V-2L10 3V5L1.5 2.5 1.2 7 4 9V10.3L0 9.3-4 10.3V9L-1.2 7-1.5 2.5-10 5V3L-1.5-2V-6C-1.5-8-1-10 0-10Z" fill="#fff" transform="translate(1976 1655) rotate(0) scale(1.1)"/>
<path d="M0-10C1-10 1.5-8 1.5-6V-2L10 3V5L1.5 2.5 1.2 7 4 9V10.3L0 9.3-4 10.3V9L-1.2 7-1.5 2.5-10 5V3L-1.5-2V-6C-1.5-8-1-10 0-10Z" fill="#fff" transform="translate(2017.5 1655) rotate(0) scale(1.1)"/>
<path d="M0-10C1-10 1.5-8 1.5-6V-2L10 3V5L1.5 2.5 1.2 7 4 9V10.3L0 9.3-4 10.3V9L-1.2 7-1.5 2.5-10 5V3L-1.5-2V-6C-1.5-8-1-10 0-10Z" fill="#fff" transform="translate(2056 1655) rotate(0) scale(1.1)"/>
<path d="M0-10C1-10 1.5-8 1.5-6V-2L10 3V5L1.5 2.5 1.2 7 4 9V10.3L0 9.3-4 10.3V9L-1.2 7-1.5 2.5-10 5V3L-1.5-2V-6C-1.5-8-1-10 0-10Z" fill="#fff" transform="translate(2140 1690) rotate(-35) scale(1.5)"/>
<path d="M0-10C1-10 1.5-8 1.5-6V-2L10 3V5L1.5 2.5 1.2 7 4 9V10.3L0 9.3-4 10.3V9L-1.2 7-1.5 2.5-10 5V3L-1.5-2V-6C-1.5-8-1-10 0-10Z" fill="#fff" transform="translate(2472.3 1206.7) rotate(-30) scale(1.9)"/>
<path d="M0-10C1-10 1.5-8 1.5-6V-2L10 3V5L1.5 2.5 1.2 7 4 9V10.3L0 9.3-4 10.3V9L-1.2 7-1.5 2.5-10 5V3L-1.5-2V-6C-1.5-8-1-10 0-10Z" fill="#fff" transform="translate(2670.8 472.5) rotate(0) scale(1.1)"/>
<path d="M0-10C1-10 1.5-8 1.5-6V-2L10 3V5L1.5 2.5 1.2 7 4 9V10.3L0 9.3-4 10.3V9L-1.2 7-1.5 2.5-10 5V3L-1.5-2V-6C-1.5-8-1-10 0-10Z" fill="#fff" transform="translate(2698.2 473.8) rotate(0) scale(1.1)"/>
<circle cx="702.5" cy="772.5" r="21.5" fill="#667076"/>
<text x="702.5" y="788.5" font-size="45.1" fill="#e6e9eb" text-anchor="middle" font-weight="bold">S</text>
<circle cx="2527.5" cy="240.5" r="21" fill="#667076"/>
<text x="2527.5" y="256.2" font-size="44.1" fill="#e6e9eb" text-anchor="middle" font-weight="bold">S</text>
<circle cx="3424.7" cy="169" r="24" fill="#667076"/>
<text x="3424.7" y="186.9" font-size="50.4" fill="#e6e9eb" text-anchor="middle" font-weight="bold">S</text>
<rect x="2564.5" y="209.3" width="49" height="33" rx="4" fill="#e6e9eb" stroke="#667076" stroke-width="3.9"/>
<text x="2589" y="238" font-size="34" fill="#667076" text-anchor="middle" textLength="40" lengthAdjust="spacingAndGlyphs" font-weight="bold">DB</text>
<rect x="2806.5" y="166.6" width="92" height="42" rx="21" fill="#a5afb5"/>
<text x="2852.5" y="199.1" font-size="32" fill="#fff" text-anchor="middle" textLength="61" lengthAdjust="spacingAndGlyphs">A113</text>
<rect x="3000" y="794" width="92" height="42" rx="21" fill="#a5afb5"/>
<text x="3046" y="826.5" font-size="32" fill="#fff" text-anchor="middle" textLength="61" lengthAdjust="spacingAndGlyphs">A113</text>
<rect x="3083.5" y="1699.5" width="92" height="43" rx="21.5" fill="#a5afb5"/>
<text x="3129.5" y="1732.5" font-size="32" fill="#fff" text-anchor="middle" textLength="61" lengthAdjust="spacingAndGlyphs">A113</text>
<rect x="3906.5" y="211.2" width="92.5" height="45" rx="22.5" fill="#a5afb5"/>
<text x="3952.8" y="245.3" font-size="32" fill="#fff" text-anchor="middle" textLength="61" lengthAdjust="spacingAndGlyphs">A117</text>
<rect x="3461.6" y="1629.1" width="92" height="43" rx="21.5" fill="#a5afb5"/>
<text x="3507.6" y="1662.1" font-size="32" fill="#fff" text-anchor="middle" textLength="61" lengthAdjust="spacingAndGlyphs">A117</text>
<rect x="1614.5" y="507.5" width="71" height="33" rx="5" fill="#a5afb5"/>
<text x="1650" y="533" font-size="25" fill="#fff" text-anchor="middle" textLength="56" lengthAdjust="spacingAndGlyphs">B96a</text>
<rect x="3076.1" y="284.6" width="71" height="32" rx="5" fill="#a5afb5"/>
<text x="3111.6" y="309.6" font-size="25" fill="#fff" text-anchor="middle" textLength="56" lengthAdjust="spacingAndGlyphs">B96a</text>
<text x="2173.5" y="197.5" font-size="31" fill="#111417" textLength="143" lengthAdjust="spacingAndGlyphs" font-weight="bold">Schönefeld</text>
<text x="766.5" y="596" font-size="31" fill="#111417" textLength="198.5" lengthAdjust="spacingAndGlyphs" font-weight="bold">Waßmannsdorf</text>
<text x="743.9" y="1392.7" font-size="31" fill="#111417" textLength="104" lengthAdjust="spacingAndGlyphs" font-weight="bold">Selchow</text>
<text x="3305.8" y="1851.3" font-size="31" fill="#111417" textLength="154" lengthAdjust="spacingAndGlyphs" font-weight="bold">Waltersdorf</text>
<text x="2362" y="342.5" font-size="19.5" fill="#111417" textLength="94" lengthAdjust="spacingAndGlyphs" font-weight="bold">Northgate</text>
<text x="2120.5" y="557.5" font-size="19.5" fill="#111417" textLength="120.5" lengthAdjust="spacingAndGlyphs" font-weight="bold">Support Area</text>
<text x="3528.2" y="299.2" font-size="19.5" fill="#111417" textLength="185.5" lengthAdjust="spacingAndGlyphs" font-weight="bold">Business Park Berlin</text>
<text x="2912" y="760" font-size="19.5" fill="#111417" textLength="86.5" lengthAdjust="spacingAndGlyphs" font-weight="bold">Zubringer</text>
<text x="2912" y="784" font-size="19.5" fill="#111417" textLength="44" lengthAdjust="spacingAndGlyphs" font-weight="bold">B96a</text>
<text x="1960.5" y="976" font-size="19.5" fill="#111417" textLength="294" lengthAdjust="spacingAndGlyphs" font-weight="bold">Nördliche Start- und Landebahn</text>
<text x="1960.5" y="999" font-size="19.5" fill="#111417" textLength="151.5" lengthAdjust="spacingAndGlyphs">Northern runway</text>
<text x="1309" y="1932.5" font-size="19.5" fill="#111417" textLength="284" lengthAdjust="spacingAndGlyphs" font-weight="bold">Südliche Start- und Landebahn</text>
<text x="1309" y="1956" font-size="19.5" fill="#111417" textLength="152.5" lengthAdjust="spacingAndGlyphs">Southern runway</text>
<text x="1402.5" y="1264" font-size="19.5" fill="#111417" textLength="126" lengthAdjust="spacingAndGlyphs" font-weight="bold">Ausbaumodul</text>
<text x="1402.5" y="1286.5" font-size="19.5" fill="#111417" textLength="161" lengthAdjust="spacingAndGlyphs">Expansion module</text>
<text x="1618.5" y="1264" font-size="19.5" fill="#111417" textLength="126" lengthAdjust="spacingAndGlyphs" font-weight="bold">Ausbaumodul</text>
<text x="1618.5" y="1286.5" font-size="19.5" fill="#111417" textLength="161" lengthAdjust="spacingAndGlyphs">Expansion module</text>
<text x="1565" y="1415" font-size="19.5" fill="#111417" textLength="93.5" lengthAdjust="spacingAndGlyphs" font-weight="bold">DFS Tower</text>
<text x="1711" y="1431" font-size="19.5" fill="#fff" textLength="65" lengthAdjust="spacingAndGlyphs" font-weight="bold">Vorfeld</text>
<text x="1711" y="1454" font-size="19.5" fill="#fff" textLength="54" lengthAdjust="spacingAndGlyphs">Apron</text>
<text x="1892.5" y="1456.5" font-size="19.5" fill="#fff" textLength="79" lengthAdjust="spacingAndGlyphs" font-weight="bold">Terminal</text>
<text x="2073.5" y="1456.5" font-size="19.5" fill="#111417" textLength="105.5" lengthAdjust="spacingAndGlyphs" font-weight="bold">Airport City</text>
<text x="1111.5" y="1487.5" font-size="19.5" fill="#111417" textLength="162.5" lengthAdjust="spacingAndGlyphs" font-weight="bold">Maintenance Area</text>
<text x="857.5" y="1322.5" font-size="19.5" fill="#111417" textLength="85.5" lengthAdjust="spacingAndGlyphs" font-weight="bold">Westgate</text>
<text x="498.5" y="1518.5" font-size="19.5" fill="#111417" textLength="278" lengthAdjust="spacingAndGlyphs" font-weight="bold">Berlin ExpoCenter Airport / ILA</text>
<text x="2272" y="1353.8" font-size="18" fill="#fff" text-anchor="middle" textLength="51.8" lengthAdjust="spacingAndGlyphs" font-weight="bold">Cargo</text>
<text x="2353" y="1386" font-size="19.5" fill="#111417" textLength="169" lengthAdjust="spacingAndGlyphs" font-weight="bold">Service Area North</text>
<text x="2269.5" y="1452.5" font-size="19.5" fill="#111417" textLength="203.5" lengthAdjust="spacingAndGlyphs" font-weight="bold">Midfield Expo Gardens</text>
<text x="2363" y="1559" font-size="19.5" fill="#111417" textLength="169" lengthAdjust="spacingAndGlyphs" font-weight="bold">Service Area South</text>
<text x="2902.8" y="1402.5" font-size="19.5" fill="#111417" textLength="67" lengthAdjust="spacingAndGlyphs" font-weight="bold">Airgate</text>
<text x="3510" y="1210" font-size="19.5" fill="#5d676e" textLength="258.5" lengthAdjust="spacingAndGlyphs" font-weight="bold">Östliche Schienenanbindung</text>
<text x="3510" y="1232.5" font-size="19.5" fill="#5d676e" textLength="136" lengthAdjust="spacingAndGlyphs">Eastern rail link</text>
<text x="2863" y="1869.8" font-size="18.5" fill="#5d676e" textLength="194.5" lengthAdjust="spacingAndGlyphs">Waltersdorfer Dreieck</text>
<text x="2740.5" y="2188.4" font-size="18.5" fill="#5d676e" textLength="174.3" lengthAdjust="spacingAndGlyphs">Schönefelder Kreuz</text>
<text x="1231.9" y="533" font-size="19.5" fill="#5d676e" transform="rotate(-14.6 1231.9 533)" textLength="312" lengthAdjust="spacingAndGlyphs" font-weight="bold">S-Bahn / Berliner Außenring (BAR)</text>
<text x="1237.5" y="554.4" font-size="19.5" fill="#5d676e" transform="rotate(-14.6 1237.5 554.4)" textLength="224.7" lengthAdjust="spacingAndGlyphs">S-Bahn / Berlin outer ring</text>
<text x="505" y="905" font-size="19.5" fill="#5d676e" transform="rotate(37.7 505 905)" textLength="278" lengthAdjust="spacingAndGlyphs" font-weight="bold">Westliche Schienenanbindung</text>
<text x="490" y="925" font-size="19.5" fill="#5d676e" transform="rotate(36.7 490 925)" textLength="150" lengthAdjust="spacingAndGlyphs">Western rail link</text>
<text x="1991" y="456.9" font-size="38" fill="#a5afb5" transform="rotate(-12.5 1991 456.9)" textLength="138" lengthAdjust="spacingAndGlyphs" font-weight="bold">Potsdam</text>
<path d="M1976 449.4L1944.3 459.5M1957 446L1944.3 459.5L1961 466" fill="none" stroke="#a5afb5" stroke-width="4.2" stroke-linecap="round" stroke-linejoin="round"/>
<text x="3605" y="253.8" font-size="37" fill="#a5afb5" transform="rotate(-11.5 3605 253.8)" textLength="94.5" lengthAdjust="spacingAndGlyphs" font-weight="bold">Berlin</text>
<path d="M3711.5 222.5L3744 213.75M3729 202.5L3744 213.75L3736.5 231" fill="none" stroke="#a5afb5" stroke-width="4.2" stroke-linecap="round" stroke-linejoin="round"/>
<text x="2945" y="494" font-size="37" fill="#a5afb5" transform="rotate(67.7 2945 494)" textLength="96" lengthAdjust="spacingAndGlyphs" font-weight="bold">Berlin</text>
<path d="M2946 478L2933 445M2952 457L2933 445L2928 466" fill="none" stroke="#a5afb5" stroke-width="4.2" stroke-linecap="round" stroke-linejoin="round"/>
<path d="M2951 2142L2933 2180M2922 2160L2933 2180L2953 2172" fill="none" stroke="#a5afb5" stroke-width="3.5" stroke-linecap="round" stroke-linejoin="round"/>
<text x="3259" y="276" font-size="19.5" fill="#111417" transform="rotate(-60.6 3259 276)" textLength="118" lengthAdjust="spacingAndGlyphs" font-weight="bold">Brandenburg</text>
<text x="3290" y="290" font-size="19.5" fill="#111417" transform="rotate(-60.6 3290 290)" textLength="54" lengthAdjust="spacingAndGlyphs" font-weight="bold">Berlin</text>
<text x="3828" y="868" font-size="19.5" fill="#111417" transform="rotate(24 3828 868)" textLength="56" lengthAdjust="spacingAndGlyphs" font-weight="bold">Berlin</text>
<text x="3814" y="902" font-size="19.5" fill="#111417" transform="rotate(24 3814 902)" textLength="120" lengthAdjust="spacingAndGlyphs" font-weight="bold">Brandenburg</text></g>
</svg>
</body></html>
